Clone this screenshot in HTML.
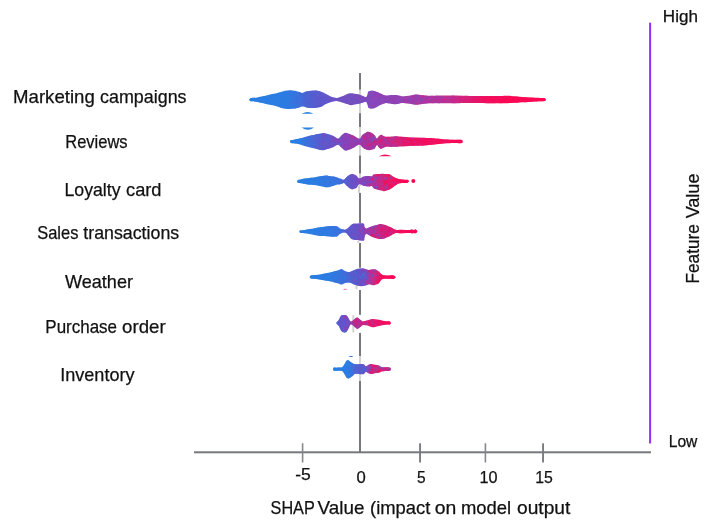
<!DOCTYPE html>
<html><head><meta charset="utf-8"><style>
html,body{margin:0;padding:0;background:#fff;width:719px;height:530px;overflow:hidden}
svg{display:block;will-change:transform}
text{font-family:"Liberation Sans",sans-serif;fill:#111;stroke:#111;stroke-width:0.25px}
</style></head><body>
<svg width="719" height="530" viewBox="0 0 719 530">
<defs><linearGradient id="gr1" gradientUnits="userSpaceOnUse" x1="249" y1="0" x2="546" y2="0"><stop offset="0.0000" stop-color="#2a80e4"/><stop offset="0.1212" stop-color="#2c7ce2"/><stop offset="0.1650" stop-color="#3a70dc"/><stop offset="0.1919" stop-color="#4a62d2"/><stop offset="0.2391" stop-color="#5a58cc"/><stop offset="0.2896" stop-color="#6a50c6"/><stop offset="0.3401" stop-color="#7352bc"/><stop offset="0.3939" stop-color="#7c4cc0"/><stop offset="0.4141" stop-color="#8848bc"/><stop offset="0.4882" stop-color="#9044b8"/><stop offset="0.5589" stop-color="#a040a8"/><stop offset="0.6397" stop-color="#b0389c"/><stop offset="0.6801" stop-color="#c03090"/><stop offset="0.7205" stop-color="#d02878"/><stop offset="0.7609" stop-color="#e01868"/><stop offset="0.7980" stop-color="#ee1060"/><stop offset="0.8451" stop-color="#f80a55"/><stop offset="1.0000" stop-color="#ff0a52"/></linearGradient>
<clipPath id="cr1"><path d="M249.3,99.7 C249.3,99.2 249.8,98.6 250.2,98.3 C250.6,98.0 250.4,98.2 251.6,98.0 C252.8,97.8 255.3,97.7 257.1,97.4 C259.0,97.1 260.9,96.7 262.7,96.3 C264.5,95.9 266.3,95.3 268.2,94.9 C270.1,94.5 271.9,94.2 273.8,93.8 C275.7,93.4 277.5,92.9 279.4,92.4 C281.3,91.9 283.3,91.2 285.0,90.8 C286.7,90.4 287.9,90.2 289.6,90.2 C291.3,90.2 293.4,90.4 295.1,90.7 C296.8,91.0 298.4,91.7 299.6,92.1 C300.8,92.5 301.3,93.1 302.4,93.0 C303.5,92.9 304.6,91.7 306.2,91.3 C307.8,90.9 309.9,90.8 311.8,90.7 C313.7,90.6 315.7,90.5 317.4,90.7 C319.1,90.9 320.6,91.5 322.0,92.0 C323.4,92.5 324.1,93.0 325.6,93.8 C327.1,94.6 329.2,96.1 331.1,96.8 C333.0,97.5 334.9,98.1 336.7,98.0 C338.5,97.9 340.3,97.0 342.2,96.3 C344.1,95.6 346.3,94.3 347.8,93.8 C349.3,93.3 349.8,93.2 351.2,93.2 C352.6,93.2 354.5,93.7 356.2,94.1 C357.9,94.5 360.0,94.9 361.6,95.4 C363.2,95.9 365.0,97.4 366.0,97.2 C367.0,97.0 367.2,94.9 367.6,94.0 C368.0,93.1 367.7,92.2 368.4,91.6 C369.1,91.0 370.4,90.5 371.6,90.4 C372.8,90.4 374.2,90.9 375.5,91.3 C376.8,91.7 378.0,92.3 379.4,92.9 C380.8,93.5 382.6,94.5 383.8,94.9 C385.0,95.4 385.2,95.6 386.6,95.6 C388.0,95.6 390.2,95.2 392.0,95.1 C393.8,95.0 395.8,95.0 397.6,95.2 C399.5,95.4 401.2,96.2 403.1,96.3 C405.0,96.4 406.6,96.1 408.7,95.8 C410.8,95.5 413.6,94.5 415.9,94.4 C418.2,94.3 420.1,95.0 422.6,95.2 C425.1,95.4 426.4,95.6 431.0,95.7 C435.6,95.8 443.5,95.6 450.0,95.6 C456.5,95.6 461.2,95.9 470.0,95.9 C478.8,96.0 495.7,95.9 502.5,95.9 C509.3,95.9 508.2,95.8 511.0,95.9 C513.8,96.0 515.8,96.4 519.2,96.7 C522.7,97.0 528.2,97.4 531.7,97.6 C535.2,97.8 537.9,97.9 540.0,98.0 C542.1,98.1 543.2,97.8 544.2,98.1 C545.2,98.4 545.8,99.2 545.8,99.7 C545.8,100.2 545.2,100.9 544.2,101.2 C543.2,101.5 542.1,101.2 540.0,101.3 C537.9,101.4 535.2,101.6 531.7,101.8 C528.2,102.0 522.7,102.4 519.2,102.6 C515.8,102.8 513.8,102.9 511.0,103.0 C508.2,103.1 509.3,103.3 502.5,103.3 C495.7,103.3 478.8,103.0 470.0,103.0 C461.2,103.0 456.5,103.3 450.0,103.3 C443.5,103.3 435.6,103.1 431.0,103.2 C426.4,103.3 425.1,103.7 422.6,103.9 C420.1,104.2 418.2,104.8 415.9,104.7 C413.6,104.7 410.8,103.9 408.7,103.6 C406.6,103.3 405.0,103.0 403.1,103.0 C401.2,103.0 399.5,103.7 397.6,103.9 C395.8,104.1 393.8,104.2 392.0,104.1 C390.2,104.0 388.0,103.1 386.6,103.1 C385.2,103.0 385.0,103.4 383.8,103.8 C382.6,104.2 380.8,104.8 379.4,105.4 C378.0,106.1 376.8,107.1 375.5,107.7 C374.2,108.3 372.8,108.8 371.6,108.8 C370.4,108.8 369.1,108.3 368.4,107.7 C367.7,107.1 368.0,106.0 367.6,105.0 C367.2,104.0 367.0,102.0 366.0,101.7 C365.0,101.4 363.2,102.6 361.6,103.0 C360.0,103.4 357.9,103.9 356.2,104.3 C354.5,104.7 352.6,105.2 351.2,105.2 C349.8,105.2 349.3,104.8 347.8,104.3 C346.3,103.8 344.1,103.0 342.2,102.4 C340.3,101.9 338.5,101.1 336.7,101.0 C334.9,100.9 333.0,101.5 331.1,102.0 C329.2,102.5 327.1,103.2 325.6,104.0 C324.1,104.8 323.4,106.0 322.0,106.6 C320.6,107.2 319.1,107.5 317.4,107.7 C315.7,107.9 313.7,108.0 311.8,108.0 C309.9,108.0 307.8,107.6 306.2,107.4 C304.6,107.2 303.5,106.6 302.4,106.6 C301.3,106.6 300.8,107.1 299.6,107.4 C298.4,107.7 296.8,108.2 295.1,108.5 C293.4,108.8 291.3,109.0 289.6,109.1 C287.9,109.1 286.7,109.1 285.0,108.8 C283.3,108.5 281.3,107.8 279.4,107.2 C277.5,106.7 275.7,106.0 273.8,105.5 C271.9,105.0 270.1,104.8 268.2,104.4 C266.3,104.0 264.5,103.4 262.7,103.0 C260.9,102.6 259.0,102.2 257.1,101.9 C255.3,101.6 252.8,101.4 251.6,101.3 C250.4,101.2 250.6,101.4 250.2,101.1 C249.8,100.8 249.3,100.2 249.3,99.7Z"/></clipPath>
<linearGradient id="gr2" gradientUnits="userSpaceOnUse" x1="290" y1="0" x2="463" y2="0"><stop offset="0.0000" stop-color="#2a80e4"/><stop offset="0.0578" stop-color="#2e7ce2"/><stop offset="0.1272" stop-color="#4a68d6"/><stop offset="0.1850" stop-color="#5a58cc"/><stop offset="0.2428" stop-color="#6a50c6"/><stop offset="0.3179" stop-color="#8a40b8"/><stop offset="0.4046" stop-color="#9a38a8"/><stop offset="0.4566" stop-color="#a8309a"/><stop offset="0.5202" stop-color="#b83090"/><stop offset="0.5896" stop-color="#c82880"/><stop offset="0.6936" stop-color="#e01868"/><stop offset="0.8092" stop-color="#f01060"/><stop offset="1.0000" stop-color="#fa0a55"/></linearGradient>
<clipPath id="cr2"><path d="M290.0,141.6 C290.0,141.1 290.4,140.5 290.8,140.2 C291.2,139.9 291.4,140.2 292.6,140.0 C293.8,139.8 296.2,139.2 298.1,138.8 C300.0,138.4 301.8,137.9 303.7,137.4 C305.6,136.9 307.4,136.2 309.3,135.8 C311.2,135.4 313.0,135.1 314.8,134.7 C316.6,134.3 318.9,133.9 320.4,133.6 C321.9,133.3 322.8,132.9 324.0,133.0 C325.2,133.1 326.1,133.6 327.6,134.1 C329.1,134.6 331.4,135.1 333.1,135.8 C334.9,136.6 336.7,138.7 338.1,138.6 C339.5,138.5 340.3,136.2 341.5,135.2 C342.7,134.2 344.0,132.9 345.4,132.7 C346.8,132.5 348.3,133.5 349.8,134.1 C351.3,134.7 352.7,135.3 354.3,136.1 C355.9,136.9 358.1,139.0 359.5,138.8 C360.9,138.6 361.4,135.8 362.5,134.7 C363.6,133.6 364.9,132.9 366.0,132.4 C367.1,131.9 368.1,131.8 369.1,131.9 C370.1,132.0 371.1,132.4 372.0,133.0 C372.9,133.6 373.9,134.3 374.7,135.2 C375.5,136.1 376.2,138.3 376.9,138.4 C377.6,138.5 378.2,136.6 379.0,136.0 C379.8,135.4 380.3,134.6 381.4,134.7 C382.4,134.8 383.6,136.4 385.3,136.7 C387.0,137.0 389.5,136.7 391.4,136.6 C393.3,136.5 393.9,136.2 396.9,136.3 C399.9,136.4 405.1,137.1 409.6,137.3 C414.2,137.6 420.1,137.6 424.2,137.8 C428.2,138.0 430.6,138.1 433.9,138.3 C437.1,138.5 440.4,139.0 443.7,139.2 C446.9,139.4 450.5,139.6 453.4,139.7 C456.3,139.8 459.4,139.5 461.0,139.8 C462.6,140.1 462.8,140.9 462.8,141.5 C462.8,142.1 462.6,142.9 461.0,143.2 C459.4,143.5 456.3,143.0 453.4,143.1 C450.5,143.2 446.9,143.3 443.7,143.6 C440.4,143.8 437.1,144.3 433.9,144.6 C430.6,144.9 428.2,145.3 424.2,145.6 C420.1,145.8 414.2,145.9 409.6,146.1 C405.1,146.3 399.9,146.7 396.9,146.8 C393.9,146.9 393.3,146.9 391.4,146.9 C389.5,146.9 387.0,146.6 385.3,146.9 C383.6,147.2 382.4,148.7 381.4,148.8 C380.3,148.9 379.8,148.2 379.0,147.5 C378.2,146.8 377.6,144.7 376.9,144.9 C376.2,145.1 375.5,147.8 374.7,148.6 C373.9,149.4 372.9,149.2 372.0,149.5 C371.1,149.8 370.1,150.2 369.1,150.2 C368.1,150.2 367.1,150.0 366.0,149.6 C364.9,149.2 363.6,148.3 362.5,147.5 C361.4,146.7 360.9,144.6 359.5,144.6 C358.1,144.6 355.9,146.6 354.3,147.4 C352.7,148.2 351.3,148.9 349.8,149.4 C348.3,149.9 346.8,150.8 345.4,150.5 C344.0,150.2 342.7,148.7 341.5,147.7 C340.3,146.7 339.5,144.8 338.1,144.7 C336.7,144.6 334.9,146.5 333.1,147.2 C331.4,147.9 329.1,148.6 327.6,149.1 C326.1,149.6 325.2,150.0 324.0,150.2 C322.8,150.3 321.9,150.3 320.4,150.0 C318.9,149.7 316.6,149.1 314.8,148.6 C313.0,148.1 311.2,147.7 309.3,147.2 C307.4,146.7 305.6,146.3 303.7,145.8 C301.8,145.3 300.0,144.5 298.1,144.1 C296.2,143.7 293.8,143.5 292.6,143.3 C291.4,143.1 291.2,143.4 290.8,143.1 C290.4,142.8 290.0,142.1 290.0,141.6Z"/></clipPath>
<linearGradient id="gr3" gradientUnits="userSpaceOnUse" x1="297" y1="0" x2="414" y2="0"><stop offset="0.0000" stop-color="#2a80e4"/><stop offset="0.1966" stop-color="#2e7ce2"/><stop offset="0.3504" stop-color="#3a72de"/><stop offset="0.4188" stop-color="#5a5ad0"/><stop offset="0.4701" stop-color="#6652c6"/><stop offset="0.5385" stop-color="#7a48c0"/><stop offset="0.6068" stop-color="#8a40b8"/><stop offset="0.6581" stop-color="#b0309a"/><stop offset="0.7265" stop-color="#d02478"/><stop offset="0.8120" stop-color="#e81866"/><stop offset="0.8803" stop-color="#f80c58"/><stop offset="1.0000" stop-color="#ff0a55"/></linearGradient>
<clipPath id="cr3"><path d="M297.2,181.4 C297.2,180.9 297.6,180.3 298.0,180.0 C298.4,179.7 298.4,179.9 299.6,179.7 C300.8,179.5 303.2,178.9 305.1,178.6 C307.0,178.3 308.9,178.1 310.7,177.8 C312.5,177.5 314.3,177.2 316.2,176.9 C318.1,176.6 320.1,176.3 321.8,176.1 C323.5,175.8 324.9,175.4 326.3,175.4 C327.7,175.4 328.4,175.8 330.0,176.0 C331.6,176.2 333.8,176.4 335.6,176.9 C337.5,177.4 339.7,178.3 341.1,178.8 C342.5,179.3 343.0,180.0 343.9,179.7 C344.8,179.4 345.8,177.7 346.7,176.9 C347.6,176.1 348.6,175.3 349.5,174.8 C350.4,174.3 351.4,174.1 352.3,174.1 C353.2,174.1 354.3,174.4 355.0,174.7 C355.7,175.0 355.9,175.2 356.7,175.8 C357.4,176.5 358.4,178.5 359.5,178.6 C360.6,178.7 361.8,177.0 363.4,176.6 C365.0,176.2 367.5,176.1 368.9,176.1 C370.3,176.1 370.9,176.5 371.6,176.3 C372.3,176.1 372.6,175.3 373.0,175.0 C373.4,174.7 372.9,174.5 374.0,174.3 C375.1,174.1 378.2,174.0 379.9,173.9 C381.6,173.8 382.5,173.8 384.1,173.9 C385.7,174.0 388.0,173.8 389.6,174.3 C391.2,174.8 392.3,176.2 393.8,177.0 C395.3,177.8 397.0,178.6 398.7,179.1 C400.4,179.6 402.7,179.7 404.2,179.8 C405.7,179.9 406.7,179.6 407.5,179.8 C408.3,180.1 408.9,180.8 408.9,181.3 C408.9,181.8 408.3,182.5 407.5,182.8 C406.7,183.1 405.7,182.9 404.2,183.0 C402.7,183.1 400.4,183.0 398.7,183.6 C397.0,184.2 395.3,185.8 393.8,186.8 C392.3,187.8 391.2,188.9 389.6,189.6 C388.0,190.3 385.7,191.1 384.1,191.2 C382.5,191.3 381.6,190.8 379.9,190.3 C378.2,189.8 375.1,188.9 374.0,188.4 C372.9,187.9 373.4,187.9 373.0,187.5 C372.6,187.1 372.3,186.2 371.6,186.1 C370.9,185.9 370.3,186.6 368.9,186.6 C367.5,186.6 365.0,186.2 363.4,185.8 C361.8,185.4 360.6,183.8 359.5,184.1 C358.4,184.4 357.4,186.7 356.7,187.4 C355.9,188.1 355.7,188.2 355.0,188.5 C354.3,188.8 353.2,189.4 352.3,189.4 C351.4,189.4 350.4,188.9 349.5,188.3 C348.6,187.7 347.6,186.7 346.7,185.8 C345.8,184.9 344.8,183.3 343.9,183.0 C343.0,182.7 342.5,183.8 341.1,184.1 C339.7,184.4 337.5,184.5 335.6,185.0 C333.8,185.5 331.6,186.5 330.0,186.9 C328.4,187.3 327.7,187.4 326.3,187.3 C324.9,187.2 323.5,186.7 321.8,186.4 C320.1,186.1 318.1,185.6 316.2,185.3 C314.3,185.0 312.5,184.9 310.7,184.7 C308.9,184.5 307.0,184.2 305.1,183.9 C303.2,183.6 300.8,183.2 299.6,183.0 C298.4,182.8 298.4,183.1 298.0,182.8 C297.6,182.5 297.2,181.9 297.2,181.4Z"/></clipPath>
<linearGradient id="gr4" gradientUnits="userSpaceOnUse" x1="299" y1="0" x2="418" y2="0"><stop offset="0.0000" stop-color="#2a80e4"/><stop offset="0.2185" stop-color="#2e7ce2"/><stop offset="0.3445" stop-color="#3a72de"/><stop offset="0.4034" stop-color="#5a5ad0"/><stop offset="0.4706" stop-color="#6652c6"/><stop offset="0.5378" stop-color="#7448c4"/><stop offset="0.5798" stop-color="#9a3ab0"/><stop offset="0.6387" stop-color="#c02c88"/><stop offset="0.7479" stop-color="#d02078"/><stop offset="0.8067" stop-color="#f01060"/><stop offset="1.0000" stop-color="#ff0a55"/></linearGradient>
<clipPath id="cr4"><path d="M299.4,231.6 C299.4,231.2 299.8,230.5 300.4,230.3 C301.0,230.1 301.4,230.4 303.0,230.2 C304.6,230.0 307.6,229.5 309.9,229.1 C312.2,228.7 314.6,228.1 316.9,227.7 C319.2,227.3 321.5,227.0 323.8,226.7 C326.1,226.4 328.6,226.1 330.8,226.0 C333.0,225.9 335.4,225.8 337.0,226.3 C338.6,226.8 339.1,228.2 340.5,228.8 C341.9,229.4 344.2,229.9 345.6,229.6 C347.0,229.3 347.9,228.0 349.0,227.1 C350.1,226.2 351.1,224.6 352.5,224.0 C353.9,223.4 355.5,223.7 357.4,223.6 C359.2,223.5 362.4,223.0 363.6,223.6 C364.8,224.2 364.2,226.3 364.7,227.1 C365.2,227.9 365.3,228.6 366.4,228.5 C367.5,228.4 369.3,227.1 371.3,226.4 C373.3,225.7 376.4,224.8 378.2,224.4 C380.0,224.0 380.8,224.1 382.0,224.2 C383.2,224.3 384.1,224.4 385.6,225.0 C387.1,225.6 389.4,226.7 391.1,227.5 C392.8,228.3 393.7,229.3 395.6,229.7 C397.5,230.1 400.1,229.8 402.3,229.8 C404.5,229.9 407.4,230.1 409.0,230.0 C410.6,229.9 410.9,229.5 411.7,229.5 C412.4,229.5 412.9,230.0 413.5,230.0 C414.1,230.0 415.0,229.4 415.6,229.6 C416.2,229.8 417.3,230.8 417.3,231.4 C417.3,232.0 416.2,233.1 415.6,233.3 C415.0,233.6 414.1,232.9 413.5,232.9 C412.9,232.9 412.4,233.2 411.7,233.2 C410.9,233.2 410.6,233.0 409.0,233.0 C407.4,233.0 404.5,233.2 402.3,233.2 C400.1,233.2 397.5,232.7 395.6,233.1 C393.7,233.5 392.8,234.8 391.1,235.6 C389.4,236.4 387.1,237.5 385.6,238.1 C384.1,238.7 383.2,238.9 382.0,239.0 C380.8,239.1 380.0,239.2 378.2,238.8 C376.4,238.4 373.3,237.3 371.3,236.5 C369.3,235.7 367.5,234.0 366.4,234.1 C365.3,234.2 365.2,235.8 364.7,236.9 C364.2,238.0 364.8,240.2 363.6,240.7 C362.4,241.2 359.2,240.2 357.4,240.0 C355.5,239.8 353.9,240.2 352.5,239.6 C351.1,239.0 350.1,237.3 349.0,236.2 C347.9,235.0 347.0,233.1 345.6,232.7 C344.2,232.3 341.9,233.0 340.5,233.6 C339.1,234.2 338.6,235.9 337.0,236.4 C335.4,236.9 333.0,236.5 330.8,236.4 C328.6,236.3 326.1,236.3 323.8,236.1 C321.5,235.9 319.2,235.8 316.9,235.4 C314.6,235.1 312.2,234.4 309.9,234.0 C307.6,233.6 304.6,233.2 303.0,233.0 C301.4,232.8 301.0,233.1 300.4,232.9 C299.8,232.7 299.4,232.0 299.4,231.6Z"/></clipPath>
<linearGradient id="gr5" gradientUnits="userSpaceOnUse" x1="310" y1="0" x2="396" y2="0"><stop offset="0.0000" stop-color="#2a80e4"/><stop offset="0.2326" stop-color="#2e7ce2"/><stop offset="0.3721" stop-color="#3a70dc"/><stop offset="0.4884" stop-color="#5060d0"/><stop offset="0.5814" stop-color="#6052c8"/><stop offset="0.6512" stop-color="#7c48c0"/><stop offset="0.7093" stop-color="#b03498"/><stop offset="0.7674" stop-color="#d82474"/><stop offset="0.8488" stop-color="#f80c58"/><stop offset="1.0000" stop-color="#ff0a55"/></linearGradient>
<clipPath id="cr5"><path d="M309.7,277.0 C309.7,276.5 310.1,275.8 310.6,275.5 C311.2,275.2 311.4,275.4 313.0,275.2 C314.6,275.0 317.6,274.9 319.9,274.5 C322.2,274.1 324.6,273.6 326.9,273.1 C329.2,272.6 331.9,271.9 333.8,271.4 C335.7,270.9 337.2,270.6 338.5,270.2 C339.8,269.8 340.4,268.9 341.5,269.0 C342.6,269.1 343.6,270.5 344.9,271.0 C346.2,271.5 347.7,272.1 349.1,272.0 C350.5,271.9 352.1,270.8 353.5,270.3 C354.9,269.8 356.1,269.1 357.5,268.8 C358.9,268.5 360.5,268.3 361.8,268.3 C363.1,268.3 364.3,268.7 365.5,269.0 C366.7,269.3 367.8,269.9 368.8,270.0 C369.8,270.1 370.6,269.5 371.5,269.4 C372.4,269.3 373.4,269.2 374.3,269.3 C375.2,269.4 376.2,269.8 377.0,270.2 C377.8,270.6 378.2,270.9 379.2,271.7 C380.1,272.5 381.1,274.3 382.7,274.9 C384.3,275.5 387.1,275.3 388.9,275.4 C390.7,275.5 392.4,275.1 393.5,275.4 C394.6,275.7 395.6,276.6 395.6,277.2 C395.6,277.8 394.6,278.6 393.5,278.9 C392.4,279.2 390.7,278.8 388.9,278.8 C387.1,278.8 384.3,278.3 382.7,279.0 C381.1,279.7 380.1,282.0 379.2,282.9 C378.2,283.8 377.8,283.9 377.0,284.3 C376.2,284.7 375.2,285.2 374.3,285.3 C373.4,285.4 372.4,285.2 371.5,285.0 C370.6,284.8 369.8,284.2 368.8,284.3 C367.8,284.4 366.7,285.3 365.5,285.6 C364.3,285.9 363.1,286.3 361.8,286.3 C360.5,286.3 358.9,286.1 357.5,285.8 C356.1,285.5 354.9,284.9 353.5,284.3 C352.1,283.8 350.5,282.7 349.1,282.5 C347.7,282.3 346.2,282.5 344.9,282.9 C343.6,283.2 342.6,284.5 341.5,284.6 C340.4,284.7 339.8,284.0 338.5,283.6 C337.2,283.2 335.7,282.7 333.8,282.2 C331.9,281.7 329.2,281.3 326.9,280.8 C324.6,280.3 322.2,279.8 319.9,279.4 C317.6,279.0 314.6,278.8 313.0,278.7 C311.4,278.6 311.2,278.8 310.6,278.5 C310.1,278.2 309.7,277.5 309.7,277.0Z"/></clipPath>
<linearGradient id="gr6" gradientUnits="userSpaceOnUse" x1="336" y1="0" x2="391" y2="0"><stop offset="0.0000" stop-color="#5a5ad4"/><stop offset="0.2182" stop-color="#6a50c8"/><stop offset="0.2909" stop-color="#a03498"/><stop offset="0.4364" stop-color="#b82890"/><stop offset="0.5818" stop-color="#d8207a"/><stop offset="0.7636" stop-color="#ea1466"/><stop offset="1.0000" stop-color="#f80c58"/></linearGradient>
<clipPath id="cr6"><path d="M336.4,323.1 C336.4,322.0 337.9,320.9 338.7,319.7 C339.4,318.5 340.2,316.6 340.9,315.8 C341.6,315.0 342.2,315.1 343.1,315.0 C344.0,314.9 345.6,314.8 346.5,315.3 C347.4,315.9 348.0,317.2 348.7,318.3 C349.4,319.4 350.0,321.5 350.9,321.6 C351.8,321.8 353.2,319.9 354.3,319.2 C355.4,318.5 356.3,317.4 357.3,317.5 C358.3,317.6 359.4,319.1 360.4,319.7 C361.3,320.3 361.8,321.3 363.0,321.4 C364.2,321.5 365.9,320.7 367.5,320.3 C369.1,319.9 370.8,319.1 372.5,319.0 C374.2,318.9 375.8,319.2 377.5,319.5 C379.2,319.8 380.8,320.4 382.5,320.7 C384.2,321.0 386.3,321.2 387.5,321.3 C388.7,321.4 389.2,321.1 389.8,321.4 C390.4,321.7 391.0,322.5 391.0,323.0 C391.0,323.5 390.4,324.3 389.8,324.6 C389.2,324.9 388.7,324.5 387.5,324.6 C386.3,324.7 384.2,325.0 382.5,325.3 C380.8,325.6 379.2,326.0 377.5,326.3 C375.8,326.6 374.2,327.4 372.5,327.3 C370.8,327.2 369.1,325.9 367.5,325.5 C365.9,325.1 364.2,324.8 363.0,325.0 C361.8,325.2 361.3,326.4 360.4,327.0 C359.4,327.6 358.3,328.9 357.3,328.9 C356.3,328.8 355.4,327.5 354.3,326.7 C353.2,325.9 351.8,323.9 350.9,324.2 C350.0,324.5 349.4,327.0 348.7,328.3 C348.0,329.6 347.4,331.4 346.5,332.0 C345.6,332.6 344.0,332.4 343.1,332.2 C342.2,332.0 341.6,331.6 340.9,330.6 C340.2,329.6 339.4,327.4 338.7,326.1 C337.9,324.9 336.4,324.2 336.4,323.1Z"/></clipPath>
<linearGradient id="gr7" gradientUnits="userSpaceOnUse" x1="333" y1="0" x2="391" y2="0"><stop offset="0.0000" stop-color="#2a80e4"/><stop offset="0.2931" stop-color="#2e7ce2"/><stop offset="0.3966" stop-color="#5060d0"/><stop offset="0.5345" stop-color="#6450c8"/><stop offset="0.6034" stop-color="#9840b0"/><stop offset="0.6724" stop-color="#c8287f"/><stop offset="0.8103" stop-color="#c0307f"/><stop offset="0.9138" stop-color="#b83088"/><stop offset="1.0000" stop-color="#a8309a"/></linearGradient>
<clipPath id="cr7"><path d="M333.0,369.2 C333.0,368.7 333.3,367.9 333.8,367.6 C334.3,367.3 334.6,367.5 336.0,367.4 C337.4,367.3 340.7,367.8 342.1,367.2 C343.5,366.6 343.8,365.2 344.5,364.1 C345.2,363.0 345.7,361.5 346.3,360.8 C346.9,360.1 347.4,359.8 348.1,359.9 C348.8,360.0 349.7,361.1 350.5,361.7 C351.3,362.2 352.1,362.8 352.9,363.2 C353.7,363.6 354.0,364.2 355.4,364.3 C356.8,364.4 360.0,364.0 361.4,364.0 C362.8,364.0 363.2,364.1 364.0,364.5 C364.8,364.9 365.0,366.3 366.0,366.2 C367.0,366.1 368.5,364.2 370.0,364.0 C371.5,363.8 373.5,364.6 375.0,364.8 C376.5,365.1 377.9,365.1 379.0,365.5 C380.1,365.9 380.3,366.7 381.5,367.0 C382.7,367.3 384.6,367.1 386.0,367.2 C387.4,367.3 389.0,367.1 389.8,367.4 C390.6,367.7 390.9,368.4 390.9,369.0 C390.9,369.6 390.6,370.4 389.8,370.8 C389.0,371.2 387.4,371.0 386.0,371.1 C384.6,371.2 382.7,371.2 381.5,371.5 C380.3,371.8 380.1,372.5 379.0,372.8 C377.9,373.1 376.5,373.1 375.0,373.3 C373.5,373.5 371.5,374.2 370.0,374.0 C368.5,373.8 367.0,372.1 366.0,372.1 C365.0,372.1 364.8,373.6 364.0,374.0 C363.2,374.4 362.8,374.2 361.4,374.2 C360.0,374.2 356.8,373.5 355.4,373.8 C354.0,374.1 353.7,375.3 352.9,375.9 C352.1,376.5 351.3,376.9 350.5,377.4 C349.7,377.8 348.8,378.6 348.1,378.6 C347.4,378.6 346.9,378.1 346.3,377.4 C345.7,376.7 345.2,375.4 344.5,374.3 C343.8,373.2 343.5,371.6 342.1,371.0 C340.7,370.4 337.4,370.7 336.0,370.7 C334.6,370.7 334.3,371.1 333.8,370.8 C333.3,370.6 333.0,369.7 333.0,369.2Z"/></clipPath></defs>
<rect width="719" height="530" fill="#fff"/>
<!-- zero line -->
<rect x="359.0" y="73.0" width="2" height="16.8" fill="#77797e"/>
<rect x="359.0" y="89.8" width="2" height="23.4" fill="#d2d4d2"/>
<rect x="359.0" y="113.2" width="2" height="14.0" fill="#77797e"/>
<rect x="359.0" y="127.2" width="2" height="28.3" fill="#d2d4d2"/>
<rect x="359.0" y="155.5" width="2" height="18.2" fill="#77797e"/>
<rect x="359.0" y="173.7" width="2" height="12.3" fill="#d2d4d2"/>
<rect x="358.0" y="186.0" width="2" height="6.9" fill="#d2d4d2"/>
<rect x="359.0" y="192.9" width="2" height="30.4" fill="#77797e"/>
<rect x="357.2" y="240.7" width="2" height="2.2" fill="#d2d4d2"/>
<rect x="359.0" y="243.0" width="2" height="24.8" fill="#77797e"/>
<rect x="355.5" y="285.0" width="2" height="4.3" fill="#d2d4d2"/>
<rect x="359.0" y="290.0" width="2" height="24.8" fill="#77797e"/>
<rect x="352.3" y="315.2" width="2" height="17.3" fill="#d2d4d2"/>
<rect x="359.0" y="332.9" width="2" height="23.1" fill="#77797e"/>
<rect x="359.0" y="356.0" width="2" height="25.0" fill="#d2d4d2"/>
<rect x="359.0" y="381.0" width="2" height="71.0" fill="#77797e"/>
<path d="M249.3,99.7 C249.3,99.2 249.8,98.6 250.2,98.3 C250.6,98.0 250.4,98.2 251.6,98.0 C252.8,97.8 255.3,97.7 257.1,97.4 C259.0,97.1 260.9,96.7 262.7,96.3 C264.5,95.9 266.3,95.3 268.2,94.9 C270.1,94.5 271.9,94.2 273.8,93.8 C275.7,93.4 277.5,92.9 279.4,92.4 C281.3,91.9 283.3,91.2 285.0,90.8 C286.7,90.4 287.9,90.2 289.6,90.2 C291.3,90.2 293.4,90.4 295.1,90.7 C296.8,91.0 298.4,91.7 299.6,92.1 C300.8,92.5 301.3,93.1 302.4,93.0 C303.5,92.9 304.6,91.7 306.2,91.3 C307.8,90.9 309.9,90.8 311.8,90.7 C313.7,90.6 315.7,90.5 317.4,90.7 C319.1,90.9 320.6,91.5 322.0,92.0 C323.4,92.5 324.1,93.0 325.6,93.8 C327.1,94.6 329.2,96.1 331.1,96.8 C333.0,97.5 334.9,98.1 336.7,98.0 C338.5,97.9 340.3,97.0 342.2,96.3 C344.1,95.6 346.3,94.3 347.8,93.8 C349.3,93.3 349.8,93.2 351.2,93.2 C352.6,93.2 354.5,93.7 356.2,94.1 C357.9,94.5 360.0,94.9 361.6,95.4 C363.2,95.9 365.0,97.4 366.0,97.2 C367.0,97.0 367.2,94.9 367.6,94.0 C368.0,93.1 367.7,92.2 368.4,91.6 C369.1,91.0 370.4,90.5 371.6,90.4 C372.8,90.4 374.2,90.9 375.5,91.3 C376.8,91.7 378.0,92.3 379.4,92.9 C380.8,93.5 382.6,94.5 383.8,94.9 C385.0,95.4 385.2,95.6 386.6,95.6 C388.0,95.6 390.2,95.2 392.0,95.1 C393.8,95.0 395.8,95.0 397.6,95.2 C399.5,95.4 401.2,96.2 403.1,96.3 C405.0,96.4 406.6,96.1 408.7,95.8 C410.8,95.5 413.6,94.5 415.9,94.4 C418.2,94.3 420.1,95.0 422.6,95.2 C425.1,95.4 426.4,95.6 431.0,95.7 C435.6,95.8 443.5,95.6 450.0,95.6 C456.5,95.6 461.2,95.9 470.0,95.9 C478.8,96.0 495.7,95.9 502.5,95.9 C509.3,95.9 508.2,95.8 511.0,95.9 C513.8,96.0 515.8,96.4 519.2,96.7 C522.7,97.0 528.2,97.4 531.7,97.6 C535.2,97.8 537.9,97.9 540.0,98.0 C542.1,98.1 543.2,97.8 544.2,98.1 C545.2,98.4 545.8,99.2 545.8,99.7 C545.8,100.2 545.2,100.9 544.2,101.2 C543.2,101.5 542.1,101.2 540.0,101.3 C537.9,101.4 535.2,101.6 531.7,101.8 C528.2,102.0 522.7,102.4 519.2,102.6 C515.8,102.8 513.8,102.9 511.0,103.0 C508.2,103.1 509.3,103.3 502.5,103.3 C495.7,103.3 478.8,103.0 470.0,103.0 C461.2,103.0 456.5,103.3 450.0,103.3 C443.5,103.3 435.6,103.1 431.0,103.2 C426.4,103.3 425.1,103.7 422.6,103.9 C420.1,104.2 418.2,104.8 415.9,104.7 C413.6,104.7 410.8,103.9 408.7,103.6 C406.6,103.3 405.0,103.0 403.1,103.0 C401.2,103.0 399.5,103.7 397.6,103.9 C395.8,104.1 393.8,104.2 392.0,104.1 C390.2,104.0 388.0,103.1 386.6,103.1 C385.2,103.0 385.0,103.4 383.8,103.8 C382.6,104.2 380.8,104.8 379.4,105.4 C378.0,106.1 376.8,107.1 375.5,107.7 C374.2,108.3 372.8,108.8 371.6,108.8 C370.4,108.8 369.1,108.3 368.4,107.7 C367.7,107.1 368.0,106.0 367.6,105.0 C367.2,104.0 367.0,102.0 366.0,101.7 C365.0,101.4 363.2,102.6 361.6,103.0 C360.0,103.4 357.9,103.9 356.2,104.3 C354.5,104.7 352.6,105.2 351.2,105.2 C349.8,105.2 349.3,104.8 347.8,104.3 C346.3,103.8 344.1,103.0 342.2,102.4 C340.3,101.9 338.5,101.1 336.7,101.0 C334.9,100.9 333.0,101.5 331.1,102.0 C329.2,102.5 327.1,103.2 325.6,104.0 C324.1,104.8 323.4,106.0 322.0,106.6 C320.6,107.2 319.1,107.5 317.4,107.7 C315.7,107.9 313.7,108.0 311.8,108.0 C309.9,108.0 307.8,107.6 306.2,107.4 C304.6,107.2 303.5,106.6 302.4,106.6 C301.3,106.6 300.8,107.1 299.6,107.4 C298.4,107.7 296.8,108.2 295.1,108.5 C293.4,108.8 291.3,109.0 289.6,109.1 C287.9,109.1 286.7,109.1 285.0,108.8 C283.3,108.5 281.3,107.8 279.4,107.2 C277.5,106.7 275.7,106.0 273.8,105.5 C271.9,105.0 270.1,104.8 268.2,104.4 C266.3,104.0 264.5,103.4 262.7,103.0 C260.9,102.6 259.0,102.2 257.1,101.9 C255.3,101.6 252.8,101.4 251.6,101.3 C250.4,101.2 250.6,101.4 250.2,101.1 C249.8,100.8 249.3,100.2 249.3,99.7Z" fill="url(#gr1)"/>
<g clip-path="url(#cr1)"><g opacity="0.75"><circle cx="356.6" cy="99.4" r="1.0" fill="#6e53c6"/><circle cx="385.2" cy="98.8" r="1.1" fill="#973daf"/><circle cx="413.2" cy="102.3" r="1.5" fill="#a338a7"/><circle cx="277.9" cy="99.9" r="1.3" fill="#2c7de2"/><circle cx="452.4" cy="101.8" r="1.2" fill="#d02287"/><circle cx="260.1" cy="100.5" r="1.1" fill="#2c7de2"/><circle cx="334.9" cy="98.4" r="1.2" fill="#764ec3"/><circle cx="374.3" cy="95.9" r="1.7" fill="#7e49bf"/><circle cx="389.3" cy="101.0" r="1.3" fill="#9140b2"/><circle cx="466.2" cy="99.1" r="1.2" fill="#d12185"/><circle cx="333.3" cy="99.6" r="1.5" fill="#6657ca"/><circle cx="487.1" cy="100.3" r="1.3" fill="#e9146c"/><circle cx="465.6" cy="98.7" r="1.5" fill="#d42082"/><circle cx="420.9" cy="103.5" r="1.1" fill="#9d3aaa"/><circle cx="449.5" cy="99.2" r="1.0" fill="#b92d97"/><circle cx="542.3" cy="98.2" r="1.6" fill="#fa0b5a"/><circle cx="464.4" cy="101.5" r="1.3" fill="#d81e7e"/><circle cx="290.0" cy="93.2" r="1.1" fill="#3378e0"/><circle cx="398.4" cy="97.3" r="1.0" fill="#9d3aaa"/><circle cx="502.9" cy="101.2" r="1.4" fill="#fc0957"/><circle cx="416.6" cy="96.2" r="1.0" fill="#8f41b4"/><circle cx="309.2" cy="93.6" r="1.2" fill="#4d66d5"/><circle cx="523.5" cy="99.1" r="1.1" fill="#ff0854"/><circle cx="266.8" cy="103.1" r="1.6" fill="#2d7de2"/><circle cx="446.7" cy="97.4" r="1.1" fill="#c5288f"/><circle cx="325.5" cy="95.8" r="1.7" fill="#6359cb"/><circle cx="275.5" cy="96.1" r="1.6" fill="#2c7de2"/><circle cx="481.8" cy="101.4" r="1.6" fill="#ee1166"/><circle cx="423.7" cy="103.3" r="1.1" fill="#a636a4"/><circle cx="414.1" cy="104.3" r="1.5" fill="#983dae"/><circle cx="408.1" cy="102.9" r="1.7" fill="#9c3bab"/><circle cx="416.5" cy="96.5" r="1.3" fill="#9f3aa9"/><circle cx="322.4" cy="94.1" r="1.6" fill="#595fd0"/><circle cx="358.5" cy="102.8" r="1.6" fill="#744fc3"/><circle cx="478.3" cy="97.1" r="1.5" fill="#ef1165"/><circle cx="475.2" cy="103.0" r="1.3" fill="#ec1369"/><circle cx="263.5" cy="97.7" r="1.2" fill="#307be1"/><circle cx="361.5" cy="102.9" r="1.1" fill="#7052c6"/><circle cx="338.1" cy="101.3" r="1.5" fill="#7350c4"/><circle cx="458.4" cy="98.2" r="1.2" fill="#c12a92"/><circle cx="461.3" cy="97.1" r="1.6" fill="#d02287"/><circle cx="516.0" cy="99.0" r="1.3" fill="#ff0854"/><circle cx="384.8" cy="102.2" r="1.5" fill="#8c42b6"/><circle cx="453.0" cy="103.1" r="1.2" fill="#c42890"/><circle cx="416.0" cy="97.0" r="1.1" fill="#b0329e"/><circle cx="361.6" cy="100.5" r="1.3" fill="#744fc3"/><circle cx="438.0" cy="99.3" r="1.3" fill="#a437a6"/><circle cx="412.3" cy="95.5" r="1.6" fill="#ac33a0"/><circle cx="384.3" cy="98.0" r="1.2" fill="#8745b9"/><circle cx="527.1" cy="100.2" r="1.0" fill="#fb0a58"/><circle cx="259.0" cy="100.3" r="1.3" fill="#2880e4"/><circle cx="273.1" cy="102.0" r="1.6" fill="#297fe4"/><circle cx="393.4" cy="98.5" r="1.5" fill="#8844b9"/><circle cx="374.1" cy="107.1" r="1.1" fill="#8546bb"/><circle cx="272.1" cy="97.0" r="1.6" fill="#2b7ee3"/><circle cx="392.3" cy="97.8" r="1.5" fill="#8e41b4"/><circle cx="435.0" cy="100.4" r="1.0" fill="#a139a8"/><circle cx="314.6" cy="107.1" r="1.3" fill="#5163d3"/><circle cx="431.8" cy="97.2" r="1.5" fill="#983dae"/><circle cx="422.2" cy="101.2" r="1.5" fill="#b3309c"/><circle cx="351.5" cy="104.2" r="1.2" fill="#8745b9"/><circle cx="298.2" cy="94.1" r="1.4" fill="#3d71db"/><circle cx="387.8" cy="96.7" r="1.1" fill="#8545ba"/><circle cx="480.7" cy="101.0" r="1.6" fill="#e9146c"/><circle cx="328.9" cy="101.9" r="1.3" fill="#5561d2"/><circle cx="503.6" cy="101.6" r="1.4" fill="#ff0854"/><circle cx="402.7" cy="100.0" r="1.1" fill="#8247bd"/><circle cx="365.2" cy="97.8" r="1.2" fill="#6e53c6"/><circle cx="317.7" cy="95.7" r="1.2" fill="#5760d1"/><circle cx="293.2" cy="103.5" r="1.1" fill="#3a73dd"/><circle cx="480.0" cy="102.2" r="1.4" fill="#e6166f"/><circle cx="486.6" cy="98.6" r="1.4" fill="#f11063"/><circle cx="487.9" cy="100.3" r="1.3" fill="#ee1267"/><circle cx="533.7" cy="101.6" r="1.7" fill="#f60d5e"/><circle cx="375.4" cy="102.1" r="1.6" fill="#8c42b6"/><circle cx="415.9" cy="99.7" r="1.7" fill="#953eb0"/><circle cx="434.9" cy="97.2" r="1.2" fill="#9140b3"/><circle cx="414.2" cy="95.2" r="1.2" fill="#ac34a0"/><circle cx="279.0" cy="93.3" r="1.4" fill="#2d7ce2"/><circle cx="249.8" cy="100.0" r="1.6" fill="#2b7ee3"/><circle cx="315.5" cy="91.7" r="1.4" fill="#5f5bcd"/><circle cx="276.5" cy="105.6" r="1.1" fill="#2c7de3"/><circle cx="357.9" cy="102.9" r="1.2" fill="#7151c5"/><circle cx="455.1" cy="100.4" r="1.4" fill="#d02286"/><circle cx="302.1" cy="100.3" r="1.5" fill="#486ad7"/><circle cx="320.2" cy="101.2" r="1.2" fill="#615acc"/><circle cx="458.9" cy="98.5" r="1.2" fill="#d22185"/><circle cx="485.4" cy="96.8" r="1.5" fill="#e51770"/><circle cx="513.5" cy="97.9" r="1.4" fill="#fc0a57"/><circle cx="511.3" cy="100.6" r="1.2" fill="#f01064"/><circle cx="313.3" cy="92.7" r="1.4" fill="#6359cb"/><circle cx="301.5" cy="97.9" r="1.4" fill="#3d71dc"/><circle cx="473.2" cy="96.3" r="1.0" fill="#e41771"/><circle cx="367.6" cy="96.7" r="1.3" fill="#7e49bf"/><circle cx="267.1" cy="98.3" r="1.7" fill="#2b7ee3"/><circle cx="347.0" cy="101.2" r="1.4" fill="#754fc3"/><circle cx="415.9" cy="94.6" r="1.1" fill="#8745ba"/><circle cx="504.0" cy="100.8" r="1.1" fill="#fd0956"/><circle cx="479.5" cy="97.8" r="1.5" fill="#f30f61"/><circle cx="464.3" cy="103.0" r="1.6" fill="#e41771"/><circle cx="451.1" cy="98.7" r="1.5" fill="#b82e98"/><circle cx="314.3" cy="98.5" r="1.1" fill="#5660d1"/><circle cx="519.9" cy="101.0" r="1.0" fill="#fd0956"/><circle cx="283.5" cy="105.2" r="1.5" fill="#2880e4"/><circle cx="386.2" cy="97.5" r="1.6" fill="#8446bb"/><circle cx="313.5" cy="96.0" r="1.6" fill="#5e5cce"/><circle cx="491.7" cy="99.4" r="1.6" fill="#fb0a58"/><circle cx="303.8" cy="93.8" r="1.5" fill="#4a68d6"/><circle cx="522.8" cy="100.5" r="1.7" fill="#ff0854"/><circle cx="364.3" cy="97.2" r="1.5" fill="#7b4bc0"/><circle cx="398.0" cy="97.8" r="1.0" fill="#a636a4"/><circle cx="452.2" cy="99.6" r="1.7" fill="#c52890"/><circle cx="325.6" cy="102.6" r="1.0" fill="#6558ca"/><circle cx="424.7" cy="101.4" r="1.2" fill="#bd2c95"/><circle cx="326.9" cy="96.3" r="1.5" fill="#6d53c7"/><circle cx="542.1" cy="100.1" r="1.2" fill="#ff0854"/><circle cx="359.6" cy="98.5" r="1.4" fill="#8944b8"/><circle cx="332.4" cy="101.4" r="1.6" fill="#5b5dcf"/><circle cx="450.4" cy="98.6" r="1.7" fill="#b52f9a"/><circle cx="357.6" cy="102.7" r="1.5" fill="#7350c4"/><circle cx="516.8" cy="98.1" r="1.5" fill="#fb0a58"/><circle cx="253.8" cy="98.0" r="1.1" fill="#2980e4"/><circle cx="545.0" cy="99.3" r="1.6" fill="#fe0955"/><circle cx="482.2" cy="97.5" r="1.1" fill="#fb0a58"/><circle cx="328.5" cy="97.0" r="1.7" fill="#5d5cce"/><circle cx="538.9" cy="99.2" r="1.7" fill="#fe0955"/><circle cx="252.1" cy="100.8" r="1.3" fill="#2c7de3"/><circle cx="398.2" cy="97.5" r="1.2" fill="#8d42b5"/><circle cx="398.3" cy="101.1" r="1.0" fill="#8247bc"/><circle cx="306.7" cy="96.2" r="1.2" fill="#426eda"/><circle cx="430.7" cy="99.6" r="1.5" fill="#993cad"/><circle cx="348.4" cy="97.5" r="1.1" fill="#6657ca"/><circle cx="319.5" cy="91.8" r="1.0" fill="#5d5cce"/><circle cx="328.3" cy="96.6" r="1.4" fill="#734fc4"/><circle cx="316.7" cy="97.1" r="1.0" fill="#5163d3"/><circle cx="365.5" cy="100.0" r="1.0" fill="#7e49bf"/><circle cx="441.4" cy="101.3" r="1.6" fill="#be2b94"/><circle cx="421.0" cy="100.6" r="1.4" fill="#9140b2"/><circle cx="417.5" cy="103.9" r="1.1" fill="#c42890"/><circle cx="426.3" cy="102.8" r="1.2" fill="#963eaf"/><circle cx="328.1" cy="102.0" r="1.1" fill="#6f52c6"/><circle cx="387.7" cy="101.3" r="1.4" fill="#7e49bf"/><circle cx="404.8" cy="103.1" r="1.2" fill="#963eaf"/><circle cx="426.6" cy="99.9" r="1.5" fill="#a238a7"/><circle cx="368.3" cy="92.6" r="1.2" fill="#754fc3"/><circle cx="319.3" cy="99.2" r="1.6" fill="#6b54c8"/><circle cx="517.7" cy="102.0" r="1.5" fill="#fd0956"/><circle cx="408.4" cy="99.8" r="1.1" fill="#a835a3"/><circle cx="450.9" cy="97.8" r="1.3" fill="#be2b94"/><circle cx="378.2" cy="97.9" r="1.1" fill="#943fb0"/><circle cx="315.4" cy="97.2" r="1.5" fill="#615acc"/><circle cx="292.0" cy="92.9" r="1.5" fill="#3179e0"/><circle cx="327.7" cy="98.6" r="1.6" fill="#6558ca"/><circle cx="444.7" cy="101.1" r="1.2" fill="#bc2c95"/><circle cx="540.6" cy="100.9" r="1.5" fill="#ff0854"/><circle cx="316.5" cy="91.1" r="1.4" fill="#5462d2"/><circle cx="476.3" cy="96.3" r="1.5" fill="#e31772"/><circle cx="359.3" cy="96.3" r="1.1" fill="#7a4bc1"/><circle cx="451.7" cy="100.2" r="1.0" fill="#c5288f"/><circle cx="496.8" cy="100.5" r="1.2" fill="#f01165"/><circle cx="475.0" cy="100.5" r="1.1" fill="#ec1369"/><circle cx="409.3" cy="101.9" r="1.1" fill="#a138a7"/><circle cx="534.6" cy="99.5" r="1.3" fill="#f90b5a"/><circle cx="317.6" cy="101.2" r="1.2" fill="#585fd0"/><circle cx="325.2" cy="95.9" r="1.2" fill="#5a5ecf"/><circle cx="378.7" cy="95.6" r="1.6" fill="#a139a8"/><circle cx="531.8" cy="101.5" r="1.4" fill="#fb0a58"/><circle cx="367.7" cy="103.1" r="1.4" fill="#8944b8"/><circle cx="369.7" cy="103.7" r="1.4" fill="#7f49be"/><circle cx="375.9" cy="94.0" r="1.4" fill="#8e41b4"/><circle cx="480.9" cy="101.5" r="1.6" fill="#e01975"/><circle cx="419.0" cy="97.6" r="1.4" fill="#963daf"/><circle cx="250.9" cy="98.4" r="1.7" fill="#2880e4"/><circle cx="387.6" cy="102.7" r="1.3" fill="#8c43b6"/><circle cx="365.3" cy="100.6" r="1.6" fill="#7350c4"/><circle cx="543.7" cy="98.6" r="1.3" fill="#fe0855"/><circle cx="421.8" cy="99.4" r="1.2" fill="#933fb1"/><circle cx="530.9" cy="101.2" r="1.7" fill="#ff0854"/><circle cx="498.9" cy="96.0" r="1.6" fill="#fe0955"/><circle cx="499.8" cy="96.3" r="1.4" fill="#f70c5d"/><circle cx="382.4" cy="96.5" r="1.6" fill="#8745b9"/><circle cx="518.5" cy="97.6" r="1.2" fill="#ff0854"/><circle cx="379.9" cy="97.0" r="1.3" fill="#9240b2"/><circle cx="543.6" cy="100.1" r="1.7" fill="#ff0854"/><circle cx="305.0" cy="94.8" r="1.6" fill="#4d66d5"/><circle cx="535.4" cy="99.9" r="1.5" fill="#ff0854"/><circle cx="466.6" cy="97.0" r="1.3" fill="#d52082"/><circle cx="345.5" cy="100.3" r="1.2" fill="#7d4abf"/><circle cx="317.8" cy="93.4" r="1.7" fill="#585fd0"/><circle cx="328.0" cy="97.1" r="1.0" fill="#5e5cce"/><circle cx="440.1" cy="98.2" r="1.6" fill="#953eb0"/><circle cx="413.3" cy="96.2" r="1.1" fill="#9a3cac"/><circle cx="397.6" cy="98.0" r="1.6" fill="#8745b9"/><circle cx="331.7" cy="97.7" r="1.4" fill="#6757c9"/><circle cx="439.0" cy="103.2" r="1.1" fill="#ae339f"/><circle cx="379.4" cy="101.4" r="1.3" fill="#8d42b5"/><circle cx="442.6" cy="101.4" r="1.2" fill="#c42890"/><circle cx="327.0" cy="94.7" r="1.5" fill="#6558cb"/><circle cx="312.7" cy="103.8" r="1.2" fill="#5561d2"/><circle cx="403.6" cy="100.6" r="1.3" fill="#993cad"/><circle cx="310.4" cy="106.7" r="1.3" fill="#5660d1"/><circle cx="444.9" cy="99.6" r="1.1" fill="#c7278e"/><circle cx="366.1" cy="101.6" r="1.2" fill="#7c4ac0"/><circle cx="308.5" cy="98.0" r="1.4" fill="#4f65d5"/><circle cx="415.9" cy="96.7" r="1.0" fill="#a238a7"/><circle cx="357.3" cy="99.7" r="1.5" fill="#7151c5"/><circle cx="299.0" cy="97.1" r="1.2" fill="#3c72dc"/><circle cx="362.4" cy="96.7" r="1.1" fill="#7d4ac0"/><circle cx="295.9" cy="106.9" r="1.4" fill="#2d7ce2"/><circle cx="515.5" cy="101.8" r="1.6" fill="#fb0a58"/><circle cx="256.9" cy="99.7" r="1.4" fill="#297fe3"/><circle cx="396.1" cy="101.2" r="1.1" fill="#8745b9"/><circle cx="415.3" cy="96.0" r="1.5" fill="#973dae"/><circle cx="531.0" cy="101.1" r="1.3" fill="#ff0854"/><circle cx="364.9" cy="99.1" r="1.2" fill="#784dc2"/><circle cx="442.5" cy="99.7" r="1.7" fill="#cc258b"/><circle cx="524.8" cy="101.3" r="1.6" fill="#fb0a58"/><circle cx="479.5" cy="98.1" r="1.7" fill="#f50e5f"/><circle cx="297.0" cy="94.1" r="1.7" fill="#3875de"/><circle cx="289.7" cy="105.8" r="1.0" fill="#2b7ee3"/><circle cx="281.5" cy="98.4" r="1.4" fill="#2b7ee3"/><circle cx="471.4" cy="98.6" r="1.6" fill="#d81e7e"/><circle cx="477.2" cy="99.2" r="1.2" fill="#e6166f"/><circle cx="523.1" cy="100.5" r="1.1" fill="#ff0854"/><circle cx="363.1" cy="96.2" r="1.0" fill="#8446bb"/><circle cx="307.3" cy="106.5" r="1.3" fill="#4e65d5"/><circle cx="505.9" cy="99.1" r="1.2" fill="#ff0854"/><circle cx="348.2" cy="97.5" r="1.4" fill="#6f52c6"/><circle cx="375.2" cy="103.5" r="1.6" fill="#8148be"/><circle cx="429.8" cy="102.3" r="1.4" fill="#af329f"/><circle cx="360.4" cy="96.0" r="1.2" fill="#774dc2"/><circle cx="504.9" cy="98.1" r="1.1" fill="#f01064"/><circle cx="427.3" cy="98.7" r="1.3" fill="#9b3bac"/><circle cx="492.6" cy="98.5" r="1.1" fill="#f70c5c"/><circle cx="351.1" cy="100.9" r="1.3" fill="#6b54c8"/><circle cx="436.7" cy="100.9" r="1.2" fill="#a935a2"/><circle cx="338.7" cy="99.3" r="1.5" fill="#7d4abf"/><circle cx="461.2" cy="96.8" r="1.4" fill="#d42083"/><circle cx="490.5" cy="101.5" r="1.4" fill="#f90c5b"/><circle cx="367.6" cy="101.8" r="1.4" fill="#7b4bc0"/><circle cx="331.4" cy="99.5" r="1.3" fill="#6756c9"/><circle cx="426.2" cy="101.6" r="1.2" fill="#b3309c"/><circle cx="353.9" cy="98.1" r="1.7" fill="#6a55c8"/><circle cx="398.5" cy="102.2" r="1.3" fill="#9240b2"/><circle cx="263.0" cy="102.7" r="1.7" fill="#2e7ce2"/><circle cx="446.7" cy="100.2" r="1.5" fill="#c02a93"/><circle cx="438.3" cy="101.2" r="1.0" fill="#a736a4"/><circle cx="323.7" cy="96.0" r="1.2" fill="#5760d1"/><circle cx="265.9" cy="102.8" r="1.6" fill="#2a7fe3"/><circle cx="271.9" cy="99.0" r="1.1" fill="#2880e4"/><circle cx="363.5" cy="96.9" r="1.6" fill="#8546bb"/><circle cx="311.5" cy="90.7" r="1.3" fill="#5760d1"/><circle cx="425.5" cy="96.3" r="1.1" fill="#a238a7"/><circle cx="499.7" cy="96.8" r="1.1" fill="#f80c5c"/><circle cx="470.3" cy="101.9" r="1.2" fill="#e31872"/><circle cx="395.4" cy="99.9" r="1.2" fill="#9e3aaa"/><circle cx="284.2" cy="94.3" r="1.1" fill="#2e7ce2"/><circle cx="297.6" cy="99.3" r="1.7" fill="#3a74dd"/><circle cx="473.3" cy="96.3" r="1.2" fill="#ee1166"/><circle cx="311.3" cy="105.3" r="1.3" fill="#5461d2"/><circle cx="533.2" cy="98.4" r="1.6" fill="#ff0854"/><circle cx="313.0" cy="99.3" r="1.6" fill="#5064d4"/><circle cx="508.8" cy="100.5" r="1.6" fill="#ff0854"/><circle cx="272.5" cy="94.1" r="1.2" fill="#2c7de2"/><circle cx="254.5" cy="100.1" r="1.0" fill="#2b7ee3"/><circle cx="545.4" cy="99.6" r="1.2" fill="#f70c5d"/><circle cx="466.3" cy="99.8" r="1.1" fill="#e11975"/><circle cx="291.7" cy="100.7" r="1.4" fill="#3875de"/><circle cx="334.0" cy="98.8" r="1.4" fill="#754fc3"/><circle cx="529.5" cy="101.1" r="1.3" fill="#fb0a59"/><circle cx="423.4" cy="95.9" r="1.7" fill="#a338a6"/><circle cx="454.4" cy="97.8" r="1.5" fill="#a636a5"/><circle cx="522.8" cy="97.9" r="1.3" fill="#ff0854"/><circle cx="499.0" cy="96.7" r="1.4" fill="#ea146b"/><circle cx="510.9" cy="102.6" r="1.0" fill="#fd0956"/><circle cx="421.4" cy="97.6" r="1.5" fill="#9a3cac"/><circle cx="277.5" cy="95.9" r="1.0" fill="#3279e0"/><circle cx="459.4" cy="96.0" r="1.0" fill="#d12286"/><circle cx="463.1" cy="99.1" r="1.6" fill="#d71f80"/><circle cx="488.9" cy="103.0" r="1.1" fill="#f40e60"/><circle cx="477.6" cy="96.9" r="1.1" fill="#d61f80"/><circle cx="258.3" cy="99.5" r="1.1" fill="#2880e4"/><circle cx="447.3" cy="101.1" r="1.4" fill="#a338a7"/><circle cx="407.1" cy="101.9" r="1.1" fill="#8347bc"/><circle cx="530.4" cy="99.9" r="1.6" fill="#fe0955"/><circle cx="480.4" cy="101.7" r="1.1" fill="#e9146b"/><circle cx="475.1" cy="97.7" r="1.6" fill="#da1d7c"/><circle cx="361.6" cy="101.9" r="1.0" fill="#7f49be"/><circle cx="394.6" cy="97.7" r="1.4" fill="#9e3aaa"/><circle cx="313.3" cy="106.6" r="1.1" fill="#5362d2"/><circle cx="343.2" cy="99.1" r="1.4" fill="#764ec3"/><circle cx="438.0" cy="97.8" r="1.1" fill="#963eaf"/><circle cx="496.7" cy="99.1" r="1.2" fill="#f01064"/><circle cx="473.7" cy="97.1" r="1.4" fill="#dd1b79"/><circle cx="369.2" cy="101.2" r="1.4" fill="#8247bd"/><circle cx="285.1" cy="103.8" r="1.7" fill="#2c7de2"/><circle cx="346.9" cy="97.7" r="1.6" fill="#784cc1"/><circle cx="499.3" cy="100.9" r="1.7" fill="#f50e5f"/><circle cx="251.1" cy="100.9" r="1.3" fill="#297fe3"/><circle cx="418.0" cy="99.2" r="1.5" fill="#a039a9"/><circle cx="353.8" cy="97.0" r="1.1" fill="#794cc1"/><circle cx="254.2" cy="100.9" r="1.5" fill="#2f7be1"/><circle cx="353.5" cy="102.7" r="1.3" fill="#7151c5"/><circle cx="471.2" cy="97.2" r="1.6" fill="#d81e7e"/><circle cx="276.0" cy="96.5" r="1.0" fill="#307ae1"/><circle cx="527.6" cy="98.3" r="1.3" fill="#ff0854"/><circle cx="312.7" cy="107.6" r="1.5" fill="#595fd0"/><circle cx="454.2" cy="98.9" r="1.7" fill="#c02a93"/><circle cx="454.2" cy="99.6" r="1.0" fill="#df1a77"/><circle cx="395.5" cy="100.6" r="1.7" fill="#8f41b4"/><circle cx="366.1" cy="99.3" r="1.3" fill="#764ec2"/><circle cx="378.4" cy="93.1" r="1.1" fill="#963eaf"/><circle cx="406.5" cy="102.4" r="1.5" fill="#a437a6"/><circle cx="432.7" cy="102.7" r="1.5" fill="#b3309b"/><circle cx="333.7" cy="99.2" r="1.4" fill="#6856c9"/><circle cx="535.7" cy="99.4" r="1.1" fill="#ff0854"/><circle cx="542.7" cy="99.2" r="1.6" fill="#fd0957"/><circle cx="289.9" cy="102.5" r="1.5" fill="#3378e0"/><circle cx="366.3" cy="97.5" r="1.3" fill="#7f48be"/><circle cx="532.8" cy="99.2" r="1.5" fill="#fd0956"/><circle cx="269.0" cy="100.8" r="1.5" fill="#2b7ee3"/><circle cx="313.5" cy="99.8" r="1.7" fill="#5462d2"/><circle cx="493.9" cy="97.1" r="1.4" fill="#f01064"/><circle cx="290.3" cy="98.2" r="1.4" fill="#297fe4"/><circle cx="438.2" cy="100.9" r="1.3" fill="#b72e99"/><circle cx="474.0" cy="97.7" r="1.3" fill="#e21874"/><circle cx="356.7" cy="96.2" r="1.2" fill="#8048be"/><circle cx="386.8" cy="99.3" r="1.6" fill="#8d42b5"/><circle cx="295.0" cy="108.4" r="1.1" fill="#3b73dc"/><circle cx="330.1" cy="100.3" r="1.5" fill="#6b55c8"/><circle cx="529.3" cy="98.1" r="1.2" fill="#fb0b59"/><circle cx="361.1" cy="100.9" r="1.0" fill="#794cc1"/><circle cx="275.1" cy="96.9" r="1.0" fill="#2d7ce2"/><circle cx="413.4" cy="101.4" r="1.5" fill="#9b3bac"/><circle cx="514.3" cy="102.7" r="1.4" fill="#f90b5a"/><circle cx="453.1" cy="98.5" r="1.7" fill="#be2b94"/><circle cx="396.3" cy="96.0" r="1.5" fill="#8048be"/><circle cx="522.3" cy="100.5" r="1.5" fill="#fe0955"/><circle cx="358.0" cy="95.0" r="1.6" fill="#784dc2"/><circle cx="328.1" cy="96.5" r="1.2" fill="#5f5bcd"/><circle cx="390.2" cy="98.5" r="1.5" fill="#9240b2"/><circle cx="480.1" cy="96.4" r="1.3" fill="#f20f62"/><circle cx="485.7" cy="97.3" r="1.5" fill="#ee1166"/><circle cx="422.9" cy="96.3" r="1.6" fill="#cd248a"/><circle cx="318.7" cy="100.5" r="1.1" fill="#5d5dce"/><circle cx="295.3" cy="92.9" r="1.3" fill="#307ae1"/><circle cx="302.3" cy="105.2" r="1.1" fill="#446dd9"/><circle cx="489.9" cy="98.1" r="1.4" fill="#f40e60"/><circle cx="384.6" cy="96.2" r="1.6" fill="#953eb0"/><circle cx="519.1" cy="100.5" r="1.3" fill="#ff0854"/><circle cx="525.9" cy="101.0" r="1.4" fill="#fe0955"/><circle cx="410.2" cy="103.4" r="1.3" fill="#9c3bab"/><circle cx="345.0" cy="99.8" r="1.1" fill="#744fc3"/><circle cx="414.9" cy="97.9" r="1.1" fill="#933fb1"/><circle cx="270.6" cy="96.8" r="1.3" fill="#3378e0"/><circle cx="296.1" cy="98.8" r="1.1" fill="#3875dd"/><circle cx="328.4" cy="97.1" r="1.5" fill="#6b55c8"/><circle cx="431.5" cy="97.9" r="1.5" fill="#9d3aaa"/><circle cx="488.2" cy="103.0" r="1.6" fill="#e9146c"/><circle cx="253.9" cy="100.1" r="1.5" fill="#2880e4"/><circle cx="524.0" cy="100.8" r="1.4" fill="#ff0854"/><circle cx="290.7" cy="94.0" r="1.3" fill="#2880e4"/><circle cx="485.7" cy="102.8" r="1.3" fill="#f30f61"/><circle cx="262.3" cy="101.6" r="1.6" fill="#2b7ee3"/><circle cx="314.6" cy="93.0" r="1.3" fill="#5362d2"/><circle cx="421.4" cy="98.0" r="1.6" fill="#a736a4"/><circle cx="525.0" cy="100.0" r="1.6" fill="#fe0855"/><circle cx="305.2" cy="95.1" r="1.4" fill="#4e65d5"/><circle cx="427.6" cy="97.8" r="1.5" fill="#a935a2"/><circle cx="377.9" cy="94.0" r="1.2" fill="#8546bb"/><circle cx="500.7" cy="101.3" r="1.7" fill="#ff0854"/><circle cx="325.7" cy="95.9" r="1.5" fill="#5c5dce"/><circle cx="527.6" cy="98.3" r="1.0" fill="#f90c5b"/><circle cx="507.4" cy="98.2" r="1.3" fill="#ff0854"/><circle cx="278.8" cy="93.9" r="1.1" fill="#2f7be1"/><circle cx="409.5" cy="100.3" r="1.5" fill="#7b4bc0"/><circle cx="319.5" cy="104.2" r="1.1" fill="#5d5dce"/><circle cx="491.3" cy="102.8" r="1.5" fill="#ee1267"/><circle cx="515.2" cy="99.1" r="1.3" fill="#fa0b5a"/><circle cx="483.5" cy="98.3" r="1.0" fill="#f11064"/><circle cx="415.9" cy="96.4" r="1.7" fill="#8844b9"/><circle cx="486.7" cy="98.5" r="1.4" fill="#f80c5c"/><circle cx="331.3" cy="98.2" r="1.3" fill="#6359cb"/><circle cx="321.9" cy="102.1" r="1.2" fill="#5f5bcd"/><circle cx="525.1" cy="98.4" r="1.2" fill="#fc0a57"/><circle cx="469.4" cy="100.3" r="1.7" fill="#e31872"/><circle cx="281.4" cy="94.1" r="1.0" fill="#297fe4"/><circle cx="413.2" cy="96.2" r="1.6" fill="#b4309b"/><circle cx="341.4" cy="101.4" r="1.2" fill="#7151c5"/><circle cx="267.9" cy="96.8" r="1.6" fill="#2880e4"/><circle cx="537.2" cy="99.7" r="1.3" fill="#f90c5b"/><circle cx="404.5" cy="100.8" r="1.6" fill="#a736a4"/><circle cx="517.3" cy="100.6" r="1.5" fill="#ff0854"/><circle cx="386.8" cy="101.3" r="1.5" fill="#8745b9"/><circle cx="337.1" cy="100.8" r="1.5" fill="#754fc3"/><circle cx="509.9" cy="98.9" r="1.3" fill="#ff0854"/><circle cx="475.2" cy="96.2" r="1.4" fill="#e9146c"/><circle cx="281.2" cy="106.3" r="1.6" fill="#307be1"/><circle cx="533.3" cy="98.5" r="1.1" fill="#fb0a59"/><circle cx="534.5" cy="99.3" r="1.5" fill="#fd0956"/><circle cx="454.6" cy="97.4" r="1.5" fill="#c02a92"/><circle cx="322.9" cy="101.4" r="1.2" fill="#5760d1"/><circle cx="440.5" cy="98.4" r="1.3" fill="#933fb1"/><circle cx="485.2" cy="98.4" r="1.4" fill="#eb1369"/><circle cx="441.5" cy="101.0" r="1.5" fill="#af329f"/><circle cx="516.8" cy="97.4" r="1.6" fill="#fb0a58"/><circle cx="445.6" cy="102.1" r="1.1" fill="#bd2b94"/><circle cx="317.3" cy="105.0" r="1.0" fill="#625acc"/><circle cx="300.2" cy="96.3" r="1.2" fill="#406fda"/><circle cx="298.5" cy="99.9" r="1.1" fill="#416eda"/><circle cx="474.5" cy="100.4" r="1.3" fill="#df1a76"/><circle cx="525.3" cy="101.6" r="1.1" fill="#fd0956"/><circle cx="473.0" cy="102.8" r="1.4" fill="#e31772"/><circle cx="483.2" cy="98.1" r="1.1" fill="#f01165"/><circle cx="342.7" cy="98.7" r="1.0" fill="#6e52c6"/><circle cx="494.0" cy="102.7" r="1.7" fill="#f60d5e"/><circle cx="332.5" cy="99.5" r="1.6" fill="#6a55c8"/><circle cx="523.7" cy="97.4" r="1.0" fill="#ff0854"/><circle cx="440.3" cy="97.8" r="1.7" fill="#a636a4"/><circle cx="509.5" cy="102.2" r="1.1" fill="#fa0b59"/><circle cx="545.1" cy="99.7" r="1.4" fill="#fb0a59"/><circle cx="293.9" cy="100.9" r="1.3" fill="#3775de"/><circle cx="539.9" cy="101.2" r="1.5" fill="#ff0854"/><circle cx="410.6" cy="100.2" r="1.1" fill="#933fb1"/><circle cx="314.9" cy="92.4" r="1.1" fill="#585fd0"/><circle cx="511.4" cy="100.9" r="1.6" fill="#fe0855"/><circle cx="381.2" cy="94.1" r="1.3" fill="#8f41b4"/><circle cx="378.0" cy="103.1" r="1.3" fill="#8446bb"/><circle cx="364.5" cy="96.9" r="1.1" fill="#784dc2"/><circle cx="528.7" cy="100.5" r="1.0" fill="#f60d5e"/><circle cx="372.1" cy="104.6" r="1.4" fill="#8e42b5"/><circle cx="520.0" cy="101.0" r="1.2" fill="#f40e5f"/><circle cx="460.8" cy="100.5" r="1.6" fill="#da1d7c"/><circle cx="295.2" cy="102.0" r="1.5" fill="#3d71dc"/><circle cx="482.6" cy="101.9" r="1.3" fill="#fb0b59"/><circle cx="261.2" cy="99.7" r="1.5" fill="#2880e4"/><circle cx="363.5" cy="96.6" r="1.5" fill="#784dc2"/><circle cx="273.2" cy="100.5" r="1.7" fill="#2c7de2"/><circle cx="474.7" cy="99.1" r="1.2" fill="#e41771"/><circle cx="278.8" cy="93.0" r="1.2" fill="#317ae0"/><circle cx="282.2" cy="103.6" r="1.3" fill="#2f7be1"/><circle cx="500.6" cy="103.2" r="1.2" fill="#fe0955"/><circle cx="389.6" cy="100.9" r="1.1" fill="#973dae"/><circle cx="412.3" cy="100.3" r="1.7" fill="#9e3aa9"/><circle cx="500.9" cy="97.1" r="1.1" fill="#ff0854"/><circle cx="457.5" cy="99.7" r="1.5" fill="#c7278e"/><circle cx="316.6" cy="101.6" r="1.1" fill="#5f5bcd"/><circle cx="339.6" cy="101.5" r="1.4" fill="#7250c5"/><circle cx="337.6" cy="99.3" r="1.4" fill="#6856c9"/><circle cx="372.6" cy="97.2" r="1.4" fill="#963eaf"/><circle cx="379.3" cy="98.2" r="1.3" fill="#8148bd"/><circle cx="395.3" cy="102.4" r="1.4" fill="#8a43b7"/><circle cx="397.7" cy="97.5" r="1.1" fill="#973daf"/><circle cx="537.3" cy="100.6" r="1.7" fill="#fd0956"/><circle cx="441.1" cy="97.3" r="1.3" fill="#993cad"/><circle cx="526.0" cy="97.6" r="1.0" fill="#fb0a58"/><circle cx="285.7" cy="95.5" r="1.1" fill="#307be1"/><circle cx="452.6" cy="99.2" r="1.7" fill="#b62f99"/><circle cx="489.0" cy="102.0" r="1.7" fill="#f40e60"/><circle cx="296.2" cy="105.9" r="1.7" fill="#3875dd"/><circle cx="438.1" cy="100.0" r="1.5" fill="#cd248a"/><circle cx="529.8" cy="98.4" r="1.2" fill="#fc0a58"/><circle cx="485.9" cy="99.3" r="1.4" fill="#fd0957"/><circle cx="321.9" cy="95.2" r="1.7" fill="#625acc"/><circle cx="542.0" cy="100.2" r="1.5" fill="#fe0955"/><circle cx="357.5" cy="94.8" r="1.5" fill="#7c4ac0"/><circle cx="434.8" cy="100.1" r="1.1" fill="#b0319d"/><circle cx="366.5" cy="99.4" r="1.2" fill="#6e52c6"/><circle cx="466.4" cy="97.0" r="1.5" fill="#da1d7c"/><circle cx="291.9" cy="103.0" r="1.4" fill="#3e70db"/><circle cx="393.2" cy="102.3" r="1.5" fill="#933fb1"/><circle cx="299.6" cy="102.4" r="1.4" fill="#426eda"/><circle cx="399.4" cy="100.8" r="1.6" fill="#8347bc"/><circle cx="432.0" cy="95.9" r="1.6" fill="#bf2a93"/><circle cx="468.9" cy="103.0" r="1.1" fill="#e41771"/><circle cx="525.3" cy="99.7" r="1.3" fill="#ff0854"/><circle cx="279.9" cy="96.3" r="1.3" fill="#2c7de2"/><circle cx="433.9" cy="99.9" r="1.1" fill="#c6278f"/><circle cx="485.1" cy="100.5" r="1.0" fill="#f80c5b"/><circle cx="364.7" cy="99.0" r="1.1" fill="#784cc1"/><circle cx="452.2" cy="100.3" r="1.5" fill="#ca258c"/><circle cx="334.6" cy="100.6" r="1.6" fill="#6f52c6"/><circle cx="326.6" cy="102.7" r="1.3" fill="#7051c5"/><circle cx="478.7" cy="96.7" r="1.2" fill="#e01a76"/><circle cx="437.1" cy="97.9" r="1.3" fill="#ad33a0"/><circle cx="331.4" cy="98.1" r="1.3" fill="#7151c5"/><circle cx="493.2" cy="97.4" r="1.5" fill="#f60d5e"/><circle cx="362.6" cy="101.7" r="1.5" fill="#7350c4"/><circle cx="327.1" cy="98.6" r="1.5" fill="#6956c9"/><circle cx="310.1" cy="97.9" r="1.4" fill="#5263d3"/><circle cx="291.6" cy="107.4" r="1.3" fill="#3279e0"/><circle cx="476.3" cy="96.6" r="1.7" fill="#e6166e"/><circle cx="427.7" cy="101.6" r="1.2" fill="#ae329f"/><circle cx="325.1" cy="99.9" r="1.7" fill="#5d5cce"/><circle cx="281.4" cy="94.8" r="1.5" fill="#2a7fe3"/><circle cx="344.4" cy="100.5" r="1.1" fill="#7350c4"/><circle cx="278.7" cy="102.9" r="1.2" fill="#2c7de2"/><circle cx="357.2" cy="100.2" r="1.2" fill="#7c4ac0"/><circle cx="309.8" cy="100.7" r="1.1" fill="#5362d3"/><circle cx="388.5" cy="96.7" r="1.3" fill="#8347bc"/><circle cx="288.1" cy="92.7" r="1.4" fill="#3279e0"/><circle cx="489.3" cy="100.0" r="1.5" fill="#fb0a59"/><circle cx="331.6" cy="97.1" r="1.1" fill="#6a55c8"/><circle cx="487.1" cy="101.8" r="1.6" fill="#ec1369"/><circle cx="527.5" cy="97.7" r="1.0" fill="#ff0854"/><circle cx="455.4" cy="102.5" r="1.4" fill="#c12a92"/><circle cx="363.9" cy="97.9" r="1.6" fill="#8b43b7"/><circle cx="367.1" cy="98.3" r="1.3" fill="#7d4abf"/><circle cx="326.4" cy="101.8" r="1.5" fill="#6259cc"/><circle cx="454.4" cy="102.6" r="1.7" fill="#bf2b94"/><circle cx="467.1" cy="102.8" r="1.5" fill="#de1a77"/><circle cx="455.9" cy="98.7" r="1.2" fill="#cc258b"/><circle cx="513.6" cy="102.6" r="1.5" fill="#fd0956"/><circle cx="453.0" cy="95.9" r="1.3" fill="#ca258c"/><circle cx="326.4" cy="102.4" r="1.6" fill="#6359cb"/><circle cx="519.8" cy="98.7" r="1.1" fill="#fb0a59"/><circle cx="326.7" cy="101.6" r="1.4" fill="#6657ca"/><circle cx="260.5" cy="102.5" r="1.4" fill="#3279e0"/><circle cx="436.4" cy="100.5" r="1.3" fill="#bc2c96"/><circle cx="473.9" cy="100.0" r="1.1" fill="#ee1166"/><circle cx="296.9" cy="98.0" r="1.3" fill="#3a73dd"/><circle cx="466.8" cy="98.6" r="1.4" fill="#d32183"/><circle cx="395.0" cy="100.7" r="1.4" fill="#8e42b5"/><circle cx="385.7" cy="102.6" r="1.2" fill="#8d42b5"/><circle cx="487.3" cy="99.7" r="1.1" fill="#fd0957"/><circle cx="373.9" cy="103.8" r="1.6" fill="#8347bc"/><circle cx="525.8" cy="100.7" r="1.4" fill="#f80c5c"/><circle cx="281.0" cy="101.0" r="1.6" fill="#307be1"/><circle cx="437.2" cy="99.5" r="1.1" fill="#a238a7"/><circle cx="291.1" cy="91.6" r="1.3" fill="#3b72dc"/><circle cx="488.3" cy="101.4" r="1.5" fill="#ef1165"/><circle cx="421.5" cy="99.5" r="1.6" fill="#7d4abf"/><circle cx="255.0" cy="99.5" r="1.6" fill="#2c7de2"/><circle cx="276.8" cy="100.5" r="1.6" fill="#2880e4"/><circle cx="436.6" cy="96.6" r="1.4" fill="#b92e98"/><circle cx="427.8" cy="103.2" r="1.2" fill="#ab34a1"/><circle cx="426.4" cy="100.1" r="1.6" fill="#b4309b"/><circle cx="394.0" cy="102.0" r="1.0" fill="#953eb0"/><circle cx="315.0" cy="104.1" r="1.3" fill="#5e5cce"/></g></g>
<path d="M290.0,141.6 C290.0,141.1 290.4,140.5 290.8,140.2 C291.2,139.9 291.4,140.2 292.6,140.0 C293.8,139.8 296.2,139.2 298.1,138.8 C300.0,138.4 301.8,137.9 303.7,137.4 C305.6,136.9 307.4,136.2 309.3,135.8 C311.2,135.4 313.0,135.1 314.8,134.7 C316.6,134.3 318.9,133.9 320.4,133.6 C321.9,133.3 322.8,132.9 324.0,133.0 C325.2,133.1 326.1,133.6 327.6,134.1 C329.1,134.6 331.4,135.1 333.1,135.8 C334.9,136.6 336.7,138.7 338.1,138.6 C339.5,138.5 340.3,136.2 341.5,135.2 C342.7,134.2 344.0,132.9 345.4,132.7 C346.8,132.5 348.3,133.5 349.8,134.1 C351.3,134.7 352.7,135.3 354.3,136.1 C355.9,136.9 358.1,139.0 359.5,138.8 C360.9,138.6 361.4,135.8 362.5,134.7 C363.6,133.6 364.9,132.9 366.0,132.4 C367.1,131.9 368.1,131.8 369.1,131.9 C370.1,132.0 371.1,132.4 372.0,133.0 C372.9,133.6 373.9,134.3 374.7,135.2 C375.5,136.1 376.2,138.3 376.9,138.4 C377.6,138.5 378.2,136.6 379.0,136.0 C379.8,135.4 380.3,134.6 381.4,134.7 C382.4,134.8 383.6,136.4 385.3,136.7 C387.0,137.0 389.5,136.7 391.4,136.6 C393.3,136.5 393.9,136.2 396.9,136.3 C399.9,136.4 405.1,137.1 409.6,137.3 C414.2,137.6 420.1,137.6 424.2,137.8 C428.2,138.0 430.6,138.1 433.9,138.3 C437.1,138.5 440.4,139.0 443.7,139.2 C446.9,139.4 450.5,139.6 453.4,139.7 C456.3,139.8 459.4,139.5 461.0,139.8 C462.6,140.1 462.8,140.9 462.8,141.5 C462.8,142.1 462.6,142.9 461.0,143.2 C459.4,143.5 456.3,143.0 453.4,143.1 C450.5,143.2 446.9,143.3 443.7,143.6 C440.4,143.8 437.1,144.3 433.9,144.6 C430.6,144.9 428.2,145.3 424.2,145.6 C420.1,145.8 414.2,145.9 409.6,146.1 C405.1,146.3 399.9,146.7 396.9,146.8 C393.9,146.9 393.3,146.9 391.4,146.9 C389.5,146.9 387.0,146.6 385.3,146.9 C383.6,147.2 382.4,148.7 381.4,148.8 C380.3,148.9 379.8,148.2 379.0,147.5 C378.2,146.8 377.6,144.7 376.9,144.9 C376.2,145.1 375.5,147.8 374.7,148.6 C373.9,149.4 372.9,149.2 372.0,149.5 C371.1,149.8 370.1,150.2 369.1,150.2 C368.1,150.2 367.1,150.0 366.0,149.6 C364.9,149.2 363.6,148.3 362.5,147.5 C361.4,146.7 360.9,144.6 359.5,144.6 C358.1,144.6 355.9,146.6 354.3,147.4 C352.7,148.2 351.3,148.9 349.8,149.4 C348.3,149.9 346.8,150.8 345.4,150.5 C344.0,150.2 342.7,148.7 341.5,147.7 C340.3,146.7 339.5,144.8 338.1,144.7 C336.7,144.6 334.9,146.5 333.1,147.2 C331.4,147.9 329.1,148.6 327.6,149.1 C326.1,149.6 325.2,150.0 324.0,150.2 C322.8,150.3 321.9,150.3 320.4,150.0 C318.9,149.7 316.6,149.1 314.8,148.6 C313.0,148.1 311.2,147.7 309.3,147.2 C307.4,146.7 305.6,146.3 303.7,145.8 C301.8,145.3 300.0,144.5 298.1,144.1 C296.2,143.7 293.8,143.5 292.6,143.3 C291.4,143.1 291.2,143.4 290.8,143.1 C290.4,142.8 290.0,142.1 290.0,141.6Z" fill="url(#gr2)"/>
<g clip-path="url(#cr2)"><g opacity="0.75"><circle cx="319.5" cy="139.4" r="1.6" fill="#5c5dcf"/><circle cx="293.3" cy="142.6" r="1.5" fill="#2e7ce2"/><circle cx="295.0" cy="139.6" r="1.3" fill="#2880e4"/><circle cx="415.8" cy="144.5" r="1.7" fill="#dd1b79"/><circle cx="401.1" cy="140.3" r="1.3" fill="#db1c7b"/><circle cx="434.2" cy="141.0" r="1.5" fill="#e7166e"/><circle cx="413.0" cy="144.9" r="1.6" fill="#fe0955"/><circle cx="302.9" cy="139.4" r="1.4" fill="#3c72dc"/><circle cx="364.4" cy="147.0" r="1.6" fill="#aa35a2"/><circle cx="410.1" cy="141.5" r="1.2" fill="#e7156d"/><circle cx="382.5" cy="146.9" r="1.1" fill="#bc2c96"/><circle cx="348.6" cy="141.1" r="1.5" fill="#784dc2"/><circle cx="442.9" cy="142.5" r="1.4" fill="#f80c5c"/><circle cx="319.4" cy="148.6" r="1.3" fill="#446cd9"/><circle cx="441.2" cy="142.0" r="1.2" fill="#ed1268"/><circle cx="423.5" cy="138.7" r="1.4" fill="#e8156d"/><circle cx="319.5" cy="136.4" r="1.5" fill="#4869d7"/><circle cx="362.5" cy="138.5" r="1.6" fill="#6c53c7"/><circle cx="414.5" cy="143.5" r="1.7" fill="#f50e5f"/><circle cx="358.1" cy="142.2" r="1.0" fill="#933fb1"/><circle cx="395.0" cy="145.5" r="1.4" fill="#cf2388"/><circle cx="423.2" cy="140.0" r="1.2" fill="#f30f61"/><circle cx="314.7" cy="142.3" r="1.6" fill="#4b68d6"/><circle cx="380.3" cy="147.4" r="1.5" fill="#953eb0"/><circle cx="317.6" cy="146.3" r="1.4" fill="#6458cb"/><circle cx="312.3" cy="139.0" r="1.2" fill="#5561d2"/><circle cx="359.5" cy="140.2" r="1.6" fill="#ae329f"/><circle cx="372.8" cy="138.9" r="1.1" fill="#c02a93"/><circle cx="459.2" cy="139.8" r="1.5" fill="#fb0a58"/><circle cx="311.5" cy="136.2" r="1.7" fill="#4a68d7"/><circle cx="312.9" cy="140.3" r="1.5" fill="#4d66d5"/><circle cx="335.9" cy="137.6" r="1.1" fill="#a935a2"/><circle cx="399.7" cy="140.0" r="1.3" fill="#c7278e"/><circle cx="369.4" cy="138.2" r="1.3" fill="#8e41b4"/><circle cx="315.0" cy="138.8" r="1.1" fill="#5263d3"/><circle cx="400.9" cy="143.6" r="1.1" fill="#cc248b"/><circle cx="413.0" cy="141.9" r="1.1" fill="#eb136a"/><circle cx="434.0" cy="142.4" r="1.6" fill="#f30f61"/><circle cx="345.9" cy="149.9" r="1.0" fill="#6d53c7"/><circle cx="382.8" cy="140.1" r="1.4" fill="#e31772"/><circle cx="447.0" cy="139.6" r="1.5" fill="#f01164"/><circle cx="441.6" cy="140.6" r="1.1" fill="#ee1266"/><circle cx="333.7" cy="143.2" r="1.1" fill="#6a55c8"/><circle cx="316.6" cy="145.0" r="1.4" fill="#595fd0"/><circle cx="374.5" cy="141.6" r="1.0" fill="#ff0854"/><circle cx="321.2" cy="137.8" r="1.4" fill="#605acc"/><circle cx="438.8" cy="139.3" r="1.0" fill="#ef1166"/><circle cx="420.9" cy="139.9" r="1.7" fill="#f90c5b"/><circle cx="455.5" cy="142.8" r="1.1" fill="#f60d5e"/><circle cx="305.4" cy="145.2" r="1.5" fill="#3a73dd"/><circle cx="413.9" cy="139.4" r="1.5" fill="#ff0854"/><circle cx="413.2" cy="145.5" r="1.3" fill="#ff0854"/><circle cx="406.1" cy="141.4" r="1.4" fill="#df1a76"/><circle cx="452.5" cy="141.0" r="1.2" fill="#f20f62"/><circle cx="451.9" cy="142.2" r="1.5" fill="#f40e5f"/><circle cx="299.1" cy="141.7" r="1.1" fill="#2d7ce2"/><circle cx="422.8" cy="139.3" r="1.6" fill="#e01975"/><circle cx="424.0" cy="142.4" r="1.1" fill="#f80c5c"/><circle cx="406.5" cy="143.3" r="1.4" fill="#e11975"/><circle cx="326.4" cy="134.2" r="1.7" fill="#6359cb"/><circle cx="444.2" cy="141.0" r="1.0" fill="#ff0854"/><circle cx="457.8" cy="142.2" r="1.6" fill="#f90b5a"/><circle cx="290.7" cy="141.2" r="1.5" fill="#2c7de2"/><circle cx="321.0" cy="138.2" r="1.1" fill="#6757ca"/><circle cx="444.9" cy="142.2" r="1.2" fill="#f90b5a"/><circle cx="323.9" cy="136.8" r="1.6" fill="#7350c4"/><circle cx="417.2" cy="145.3" r="1.4" fill="#e9146c"/><circle cx="433.3" cy="141.9" r="1.4" fill="#f80c5b"/><circle cx="338.1" cy="144.0" r="1.5" fill="#754ec3"/><circle cx="329.4" cy="146.8" r="1.6" fill="#6f52c6"/><circle cx="317.3" cy="136.5" r="1.4" fill="#5661d1"/><circle cx="388.0" cy="137.2" r="1.1" fill="#f70c5c"/><circle cx="338.6" cy="144.8" r="1.4" fill="#744fc4"/><circle cx="409.4" cy="144.2" r="1.4" fill="#ff0854"/><circle cx="353.3" cy="140.2" r="1.1" fill="#b0329e"/><circle cx="429.3" cy="141.3" r="1.7" fill="#ff0854"/><circle cx="358.2" cy="138.5" r="1.7" fill="#7b4bc0"/><circle cx="307.1" cy="144.3" r="1.6" fill="#3c72dc"/><circle cx="384.5" cy="145.6" r="1.6" fill="#625acc"/><circle cx="443.9" cy="141.7" r="1.1" fill="#ed1267"/><circle cx="361.6" cy="145.5" r="1.3" fill="#8c42b6"/><circle cx="356.9" cy="139.9" r="1.2" fill="#8745b9"/><circle cx="293.4" cy="141.4" r="1.6" fill="#2880e4"/><circle cx="294.2" cy="142.9" r="1.6" fill="#2c7de2"/><circle cx="427.9" cy="140.5" r="1.1" fill="#e6166f"/><circle cx="365.1" cy="146.4" r="1.6" fill="#8446bc"/><circle cx="461.3" cy="141.6" r="1.5" fill="#fa0b5a"/><circle cx="312.7" cy="141.8" r="1.5" fill="#4c67d5"/><circle cx="371.9" cy="138.0" r="1.7" fill="#8e42b5"/><circle cx="294.3" cy="141.8" r="1.6" fill="#2c7de2"/><circle cx="401.9" cy="141.5" r="1.2" fill="#c7278e"/><circle cx="412.2" cy="139.5" r="1.7" fill="#ef1165"/><circle cx="368.3" cy="137.3" r="1.4" fill="#bb2c96"/><circle cx="424.4" cy="142.4" r="1.2" fill="#f70d5d"/><circle cx="439.5" cy="140.5" r="1.5" fill="#e6166e"/><circle cx="391.6" cy="143.9" r="1.0" fill="#f40e60"/><circle cx="454.9" cy="141.9" r="1.2" fill="#f60d5e"/><circle cx="319.1" cy="149.1" r="1.1" fill="#4f65d4"/><circle cx="331.5" cy="143.6" r="1.5" fill="#5a5ed0"/><circle cx="329.6" cy="135.2" r="1.2" fill="#6757ca"/><circle cx="380.0" cy="141.2" r="1.4" fill="#de1a77"/><circle cx="300.3" cy="140.9" r="1.4" fill="#2c7de2"/><circle cx="378.7" cy="145.7" r="1.3" fill="#a537a5"/><circle cx="322.2" cy="135.5" r="1.5" fill="#4a68d6"/><circle cx="368.4" cy="140.3" r="1.2" fill="#b52f9a"/><circle cx="402.9" cy="141.8" r="1.1" fill="#df1a77"/><circle cx="299.8" cy="143.0" r="1.1" fill="#2880e4"/><circle cx="451.5" cy="139.8" r="1.1" fill="#f70d5d"/><circle cx="352.8" cy="136.3" r="1.6" fill="#c52890"/><circle cx="395.9" cy="146.6" r="1.5" fill="#ac33a0"/><circle cx="384.8" cy="145.7" r="1.6" fill="#ac33a0"/><circle cx="295.8" cy="139.4" r="1.5" fill="#2880e4"/><circle cx="294.7" cy="141.4" r="1.1" fill="#2880e4"/><circle cx="409.0" cy="139.6" r="1.6" fill="#fc0a57"/><circle cx="403.6" cy="143.7" r="1.6" fill="#f60d5e"/><circle cx="361.0" cy="144.4" r="1.2" fill="#784dc2"/><circle cx="412.6" cy="140.6" r="1.4" fill="#ea146b"/><circle cx="451.3" cy="140.0" r="1.1" fill="#fb0a59"/><circle cx="320.0" cy="149.3" r="1.0" fill="#605bcd"/><circle cx="291.9" cy="140.5" r="1.2" fill="#297fe4"/><circle cx="370.1" cy="143.9" r="1.2" fill="#774dc2"/><circle cx="352.7" cy="139.6" r="1.6" fill="#9240b2"/><circle cx="390.6" cy="145.7" r="1.6" fill="#bd2c95"/><circle cx="309.6" cy="137.6" r="1.5" fill="#4a69d7"/><circle cx="362.5" cy="140.1" r="1.3" fill="#9d3aaa"/><circle cx="370.0" cy="142.7" r="1.5" fill="#af329e"/><circle cx="438.9" cy="140.0" r="1.1" fill="#eb136a"/><circle cx="431.9" cy="143.4" r="1.7" fill="#f70c5c"/><circle cx="343.4" cy="142.5" r="1.2" fill="#774dc2"/><circle cx="293.5" cy="142.3" r="1.2" fill="#2b7ee3"/><circle cx="393.7" cy="137.2" r="1.0" fill="#e01a76"/><circle cx="416.7" cy="140.6" r="1.4" fill="#f11063"/><circle cx="375.1" cy="137.9" r="1.4" fill="#6458cb"/><circle cx="392.3" cy="143.2" r="1.1" fill="#9e3aaa"/><circle cx="396.6" cy="145.8" r="1.1" fill="#cf2388"/><circle cx="410.9" cy="141.0" r="1.1" fill="#f20f62"/><circle cx="296.6" cy="141.8" r="1.1" fill="#2f7be1"/><circle cx="357.6" cy="145.3" r="1.5" fill="#953eb0"/><circle cx="393.8" cy="146.7" r="1.2" fill="#ab34a1"/><circle cx="338.4" cy="143.6" r="1.2" fill="#7b4bc0"/><circle cx="420.3" cy="139.7" r="1.5" fill="#f30f61"/><circle cx="381.4" cy="143.8" r="1.1" fill="#da1d7c"/><circle cx="440.8" cy="140.8" r="1.1" fill="#f70c5c"/><circle cx="375.2" cy="145.9" r="1.0" fill="#ad33a0"/><circle cx="295.0" cy="142.3" r="1.4" fill="#2d7de2"/><circle cx="350.4" cy="148.5" r="1.5" fill="#943eb0"/><circle cx="397.4" cy="146.5" r="1.6" fill="#b1319d"/><circle cx="429.8" cy="142.0" r="1.3" fill="#e01975"/><circle cx="313.4" cy="140.4" r="1.3" fill="#4869d7"/><circle cx="446.2" cy="141.3" r="1.0" fill="#f90b5b"/><circle cx="384.9" cy="139.5" r="1.6" fill="#ad33a0"/><circle cx="380.0" cy="147.9" r="1.3" fill="#9e3aa9"/><circle cx="346.0" cy="136.6" r="1.6" fill="#8844b8"/><circle cx="442.0" cy="142.2" r="1.2" fill="#ff0854"/><circle cx="305.9" cy="138.9" r="1.4" fill="#3875dd"/><circle cx="313.9" cy="137.9" r="1.4" fill="#5064d4"/><circle cx="422.7" cy="143.5" r="1.1" fill="#eb1369"/><circle cx="457.4" cy="142.0" r="1.5" fill="#fe0955"/><circle cx="427.0" cy="139.0" r="1.6" fill="#fc0957"/><circle cx="337.5" cy="142.1" r="1.4" fill="#7051c5"/><circle cx="433.0" cy="144.6" r="1.6" fill="#ff0854"/><circle cx="457.5" cy="141.6" r="1.0" fill="#f50d5f"/><circle cx="422.0" cy="144.3" r="1.3" fill="#ef1165"/><circle cx="409.8" cy="145.4" r="1.6" fill="#d71f80"/><circle cx="432.4" cy="143.7" r="1.2" fill="#fe0955"/><circle cx="372.6" cy="140.3" r="1.5" fill="#6b54c8"/><circle cx="390.2" cy="143.7" r="1.5" fill="#af329e"/><circle cx="452.4" cy="139.9" r="1.3" fill="#f30e60"/><circle cx="293.8" cy="141.6" r="1.1" fill="#2d7de2"/><circle cx="300.6" cy="138.9" r="1.7" fill="#2c7de3"/><circle cx="301.2" cy="139.5" r="1.1" fill="#3378df"/><circle cx="390.6" cy="145.8" r="1.1" fill="#b52f9a"/><circle cx="415.9" cy="145.2" r="1.3" fill="#d51f81"/><circle cx="439.5" cy="143.9" r="1.4" fill="#f90b5b"/><circle cx="423.5" cy="145.1" r="1.3" fill="#f60d5e"/><circle cx="300.5" cy="141.1" r="1.5" fill="#2c7de2"/><circle cx="298.2" cy="140.9" r="1.4" fill="#2880e4"/><circle cx="400.9" cy="142.0" r="1.1" fill="#c8268d"/><circle cx="347.1" cy="143.2" r="1.5" fill="#8148be"/><circle cx="392.0" cy="139.3" r="1.6" fill="#ad339f"/><circle cx="422.6" cy="144.4" r="1.1" fill="#d42082"/><circle cx="441.1" cy="142.2" r="1.2" fill="#f21063"/><circle cx="438.0" cy="139.5" r="1.5" fill="#ff0854"/><circle cx="328.2" cy="138.5" r="1.1" fill="#6856c9"/><circle cx="329.1" cy="144.8" r="1.0" fill="#6757ca"/><circle cx="322.2" cy="144.4" r="1.0" fill="#6d53c7"/><circle cx="318.5" cy="137.6" r="1.5" fill="#5b5dcf"/><circle cx="315.2" cy="144.2" r="1.4" fill="#5860d1"/><circle cx="291.4" cy="140.4" r="1.4" fill="#297fe4"/><circle cx="400.8" cy="142.1" r="1.6" fill="#cf2388"/><circle cx="453.1" cy="140.5" r="1.1" fill="#ff0854"/><circle cx="301.0" cy="140.3" r="1.7" fill="#3577df"/><circle cx="354.5" cy="137.9" r="1.2" fill="#8a43b7"/><circle cx="382.5" cy="145.5" r="1.1" fill="#9041b3"/><circle cx="293.3" cy="142.7" r="1.6" fill="#2d7de2"/><circle cx="415.4" cy="142.0" r="1.2" fill="#fd0956"/><circle cx="460.3" cy="140.2" r="1.6" fill="#f50e5f"/><circle cx="386.8" cy="141.2" r="1.1" fill="#d42083"/><circle cx="412.8" cy="138.8" r="1.5" fill="#df1a77"/><circle cx="316.0" cy="135.2" r="1.7" fill="#4969d7"/><circle cx="393.7" cy="146.7" r="1.6" fill="#b0319d"/><circle cx="402.9" cy="140.0" r="1.5" fill="#e7166e"/><circle cx="339.7" cy="144.6" r="1.4" fill="#7b4bc0"/><circle cx="339.7" cy="139.5" r="1.5" fill="#6d53c7"/><circle cx="414.9" cy="142.1" r="1.4" fill="#d61f81"/><circle cx="326.3" cy="142.7" r="1.6" fill="#625acc"/><circle cx="378.3" cy="141.9" r="1.4" fill="#d22184"/><circle cx="315.5" cy="135.3" r="1.3" fill="#5660d1"/><circle cx="327.5" cy="138.8" r="1.6" fill="#6657ca"/><circle cx="412.6" cy="138.6" r="1.2" fill="#ce2389"/><circle cx="434.5" cy="141.0" r="1.3" fill="#f30f61"/><circle cx="333.4" cy="140.7" r="1.4" fill="#8745b9"/><circle cx="362.5" cy="136.4" r="1.4" fill="#a338a6"/><circle cx="309.1" cy="140.0" r="1.5" fill="#3f70db"/><circle cx="351.1" cy="141.2" r="1.6" fill="#943fb1"/><circle cx="458.6" cy="142.8" r="1.5" fill="#f90b5b"/><circle cx="430.7" cy="141.5" r="1.5" fill="#f20f62"/><circle cx="354.6" cy="138.7" r="1.7" fill="#a338a6"/><circle cx="433.6" cy="142.6" r="1.1" fill="#f20f62"/><circle cx="458.4" cy="142.1" r="1.0" fill="#f40e60"/><circle cx="396.4" cy="137.3" r="1.5" fill="#bf2b94"/><circle cx="337.2" cy="144.5" r="1.0" fill="#7350c4"/><circle cx="452.6" cy="143.1" r="1.5" fill="#f30f61"/><circle cx="349.1" cy="142.9" r="1.5" fill="#9140b2"/><circle cx="311.8" cy="137.5" r="1.3" fill="#486ad7"/><circle cx="393.5" cy="145.4" r="1.6" fill="#b52f9a"/><circle cx="364.8" cy="145.9" r="1.1" fill="#c9268d"/><circle cx="396.7" cy="139.0" r="1.2" fill="#d81e7f"/><circle cx="326.0" cy="142.8" r="1.6" fill="#6558cb"/><circle cx="366.9" cy="146.0" r="1.2" fill="#b62f9a"/><circle cx="340.7" cy="145.9" r="1.5" fill="#8a43b7"/><circle cx="364.2" cy="143.9" r="1.1" fill="#973dae"/><circle cx="334.5" cy="138.5" r="1.2" fill="#6856c9"/><circle cx="340.6" cy="138.8" r="1.6" fill="#8147bd"/><circle cx="454.8" cy="142.3" r="1.5" fill="#ff0854"/><circle cx="294.7" cy="143.0" r="1.1" fill="#2880e4"/><circle cx="455.3" cy="141.7" r="1.6" fill="#ff0854"/><circle cx="408.8" cy="141.7" r="1.2" fill="#eb1369"/><circle cx="363.6" cy="137.4" r="1.6" fill="#b82e98"/><circle cx="459.4" cy="142.2" r="1.6" fill="#f90c5b"/><circle cx="367.3" cy="148.8" r="1.6" fill="#ab34a1"/><circle cx="322.9" cy="134.6" r="1.2" fill="#4e65d5"/><circle cx="421.3" cy="141.2" r="1.7" fill="#fb0a59"/><circle cx="331.5" cy="137.8" r="1.0" fill="#794cc1"/><circle cx="321.5" cy="138.5" r="1.7" fill="#615acc"/><circle cx="312.9" cy="146.4" r="1.3" fill="#456bd8"/><circle cx="330.7" cy="147.0" r="1.2" fill="#744fc3"/><circle cx="311.5" cy="145.7" r="1.3" fill="#4a69d7"/><circle cx="434.5" cy="144.2" r="1.4" fill="#f11064"/><circle cx="312.3" cy="141.3" r="1.6" fill="#4a68d6"/><circle cx="384.4" cy="144.5" r="1.2" fill="#da1d7c"/><circle cx="341.6" cy="143.0" r="1.5" fill="#6359cb"/><circle cx="356.7" cy="137.5" r="1.1" fill="#ab34a1"/><circle cx="392.0" cy="141.9" r="1.7" fill="#d81e7e"/><circle cx="385.1" cy="144.8" r="1.4" fill="#e8156d"/><circle cx="397.9" cy="141.6" r="1.2" fill="#e6166f"/><circle cx="412.7" cy="142.8" r="1.1" fill="#f70d5d"/><circle cx="322.9" cy="135.2" r="1.4" fill="#8048be"/><circle cx="341.3" cy="140.6" r="1.3" fill="#784cc1"/><circle cx="360.8" cy="142.4" r="1.6" fill="#8d42b6"/><circle cx="369.4" cy="144.5" r="1.2" fill="#df1a77"/><circle cx="360.8" cy="140.0" r="1.4" fill="#8c42b6"/><circle cx="428.3" cy="141.9" r="1.1" fill="#df1a76"/><circle cx="361.8" cy="139.3" r="1.4" fill="#a935a2"/><circle cx="306.3" cy="141.9" r="1.2" fill="#3d72dc"/><circle cx="420.4" cy="142.9" r="1.5" fill="#ed1267"/><circle cx="360.3" cy="144.9" r="1.6" fill="#ab34a1"/><circle cx="408.2" cy="142.0" r="1.6" fill="#db1c7b"/><circle cx="328.7" cy="139.1" r="1.6" fill="#5b5ecf"/><circle cx="437.4" cy="141.8" r="1.3" fill="#fd0956"/><circle cx="436.6" cy="143.1" r="1.0" fill="#fd0957"/><circle cx="340.5" cy="138.5" r="1.3" fill="#6c53c7"/><circle cx="376.0" cy="145.4" r="1.3" fill="#b82e98"/><circle cx="387.6" cy="144.5" r="1.7" fill="#c32991"/><circle cx="323.3" cy="142.5" r="1.5" fill="#7d4abf"/><circle cx="317.0" cy="147.4" r="1.5" fill="#6657ca"/><circle cx="338.0" cy="140.5" r="1.4" fill="#8d42b5"/><circle cx="318.1" cy="147.4" r="1.2" fill="#5760d1"/><circle cx="328.3" cy="135.1" r="1.2" fill="#595fd0"/><circle cx="372.5" cy="148.4" r="1.6" fill="#953eb0"/><circle cx="445.9" cy="142.4" r="1.2" fill="#ed1268"/><circle cx="434.3" cy="139.6" r="1.1" fill="#f11063"/><circle cx="304.2" cy="139.8" r="1.5" fill="#406fda"/><circle cx="384.2" cy="144.8" r="1.2" fill="#d52082"/><circle cx="369.5" cy="139.4" r="1.4" fill="#8b43b6"/><circle cx="386.2" cy="142.7" r="1.5" fill="#a238a7"/><circle cx="415.2" cy="139.5" r="1.6" fill="#ef1165"/><circle cx="446.0" cy="140.8" r="1.7" fill="#ee1267"/><circle cx="306.5" cy="141.8" r="1.6" fill="#3f70db"/><circle cx="459.9" cy="141.8" r="1.3" fill="#fa0b5a"/><circle cx="391.8" cy="142.3" r="1.6" fill="#ce2489"/><circle cx="325.4" cy="137.6" r="1.5" fill="#5c5dcf"/><circle cx="361.0" cy="139.4" r="1.7" fill="#7e49bf"/><circle cx="453.4" cy="142.6" r="1.7" fill="#fe0955"/><circle cx="394.7" cy="145.6" r="1.1" fill="#b2319c"/><circle cx="300.7" cy="141.2" r="1.2" fill="#2a7ee3"/><circle cx="440.0" cy="139.7" r="1.2" fill="#f60d5d"/><circle cx="384.9" cy="139.9" r="1.1" fill="#9240b2"/><circle cx="393.9" cy="137.8" r="1.0" fill="#9d3bab"/><circle cx="388.8" cy="143.5" r="1.6" fill="#a338a7"/><circle cx="370.3" cy="135.4" r="1.4" fill="#d02287"/><circle cx="385.1" cy="137.0" r="1.1" fill="#d91e7e"/><circle cx="305.5" cy="139.7" r="1.5" fill="#3776de"/><circle cx="456.2" cy="141.2" r="1.6" fill="#fc0a57"/><circle cx="380.1" cy="147.5" r="1.0" fill="#ea146b"/><circle cx="361.6" cy="143.4" r="1.1" fill="#ae329f"/><circle cx="300.3" cy="140.2" r="1.3" fill="#2880e4"/><circle cx="429.2" cy="140.3" r="1.5" fill="#ea146a"/><circle cx="434.1" cy="142.0" r="1.4" fill="#e41771"/><circle cx="304.4" cy="138.4" r="1.4" fill="#3a73dd"/><circle cx="369.2" cy="135.5" r="1.6" fill="#b52f9a"/><circle cx="450.6" cy="143.1" r="1.4" fill="#f60d5e"/><circle cx="457.0" cy="140.4" r="1.5" fill="#fd0956"/><circle cx="318.3" cy="148.7" r="1.0" fill="#4a68d7"/><circle cx="390.5" cy="144.8" r="1.1" fill="#d02286"/><circle cx="355.6" cy="140.9" r="1.4" fill="#794cc1"/><circle cx="357.0" cy="138.4" r="1.7" fill="#a437a6"/><circle cx="454.9" cy="141.7" r="1.1" fill="#f90b5a"/><circle cx="341.0" cy="141.5" r="1.4" fill="#8745b9"/><circle cx="362.0" cy="136.4" r="1.4" fill="#a636a4"/><circle cx="420.8" cy="138.5" r="1.3" fill="#e21873"/><circle cx="350.2" cy="138.4" r="1.6" fill="#9140b2"/><circle cx="310.6" cy="137.0" r="1.5" fill="#486ad7"/><circle cx="339.2" cy="144.9" r="1.4" fill="#5163d3"/><circle cx="457.0" cy="142.1" r="1.1" fill="#f80c5b"/><circle cx="401.2" cy="137.6" r="1.1" fill="#ed1268"/><circle cx="325.7" cy="140.5" r="1.2" fill="#4e65d5"/><circle cx="373.6" cy="147.8" r="1.6" fill="#953eb0"/><circle cx="426.6" cy="141.9" r="1.3" fill="#fc0a57"/><circle cx="450.4" cy="143.1" r="1.2" fill="#ff0854"/><circle cx="314.8" cy="144.5" r="1.5" fill="#3d71db"/><circle cx="364.2" cy="137.9" r="1.7" fill="#cd248a"/><circle cx="327.3" cy="143.6" r="1.1" fill="#5363d3"/><circle cx="329.1" cy="135.8" r="1.0" fill="#5462d2"/><circle cx="426.2" cy="144.1" r="1.7" fill="#f90c5b"/></g></g>
<path d="M297.2,181.4 C297.2,180.9 297.6,180.3 298.0,180.0 C298.4,179.7 298.4,179.9 299.6,179.7 C300.8,179.5 303.2,178.9 305.1,178.6 C307.0,178.3 308.9,178.1 310.7,177.8 C312.5,177.5 314.3,177.2 316.2,176.9 C318.1,176.6 320.1,176.3 321.8,176.1 C323.5,175.8 324.9,175.4 326.3,175.4 C327.7,175.4 328.4,175.8 330.0,176.0 C331.6,176.2 333.8,176.4 335.6,176.9 C337.5,177.4 339.7,178.3 341.1,178.8 C342.5,179.3 343.0,180.0 343.9,179.7 C344.8,179.4 345.8,177.7 346.7,176.9 C347.6,176.1 348.6,175.3 349.5,174.8 C350.4,174.3 351.4,174.1 352.3,174.1 C353.2,174.1 354.3,174.4 355.0,174.7 C355.7,175.0 355.9,175.2 356.7,175.8 C357.4,176.5 358.4,178.5 359.5,178.6 C360.6,178.7 361.8,177.0 363.4,176.6 C365.0,176.2 367.5,176.1 368.9,176.1 C370.3,176.1 370.9,176.5 371.6,176.3 C372.3,176.1 372.6,175.3 373.0,175.0 C373.4,174.7 372.9,174.5 374.0,174.3 C375.1,174.1 378.2,174.0 379.9,173.9 C381.6,173.8 382.5,173.8 384.1,173.9 C385.7,174.0 388.0,173.8 389.6,174.3 C391.2,174.8 392.3,176.2 393.8,177.0 C395.3,177.8 397.0,178.6 398.7,179.1 C400.4,179.6 402.7,179.7 404.2,179.8 C405.7,179.9 406.7,179.6 407.5,179.8 C408.3,180.1 408.9,180.8 408.9,181.3 C408.9,181.8 408.3,182.5 407.5,182.8 C406.7,183.1 405.7,182.9 404.2,183.0 C402.7,183.1 400.4,183.0 398.7,183.6 C397.0,184.2 395.3,185.8 393.8,186.8 C392.3,187.8 391.2,188.9 389.6,189.6 C388.0,190.3 385.7,191.1 384.1,191.2 C382.5,191.3 381.6,190.8 379.9,190.3 C378.2,189.8 375.1,188.9 374.0,188.4 C372.9,187.9 373.4,187.9 373.0,187.5 C372.6,187.1 372.3,186.2 371.6,186.1 C370.9,185.9 370.3,186.6 368.9,186.6 C367.5,186.6 365.0,186.2 363.4,185.8 C361.8,185.4 360.6,183.8 359.5,184.1 C358.4,184.4 357.4,186.7 356.7,187.4 C355.9,188.1 355.7,188.2 355.0,188.5 C354.3,188.8 353.2,189.4 352.3,189.4 C351.4,189.4 350.4,188.9 349.5,188.3 C348.6,187.7 347.6,186.7 346.7,185.8 C345.8,184.9 344.8,183.3 343.9,183.0 C343.0,182.7 342.5,183.8 341.1,184.1 C339.7,184.4 337.5,184.5 335.6,185.0 C333.8,185.5 331.6,186.5 330.0,186.9 C328.4,187.3 327.7,187.4 326.3,187.3 C324.9,187.2 323.5,186.7 321.8,186.4 C320.1,186.1 318.1,185.6 316.2,185.3 C314.3,185.0 312.5,184.9 310.7,184.7 C308.9,184.5 307.0,184.2 305.1,183.9 C303.2,183.6 300.8,183.2 299.6,183.0 C298.4,182.8 298.4,183.1 298.0,182.8 C297.6,182.5 297.2,181.9 297.2,181.4Z" fill="url(#gr3)"/>
<g clip-path="url(#cr3)"><g opacity="0.75"><circle cx="323.8" cy="177.5" r="1.3" fill="#317ae0"/><circle cx="324.9" cy="175.8" r="1.7" fill="#2c7de2"/><circle cx="302.8" cy="180.6" r="1.5" fill="#297fe3"/><circle cx="331.6" cy="183.4" r="1.3" fill="#2c7de2"/><circle cx="319.0" cy="184.7" r="1.5" fill="#2880e4"/><circle cx="402.4" cy="179.9" r="1.4" fill="#f50e5f"/><circle cx="319.7" cy="181.6" r="1.6" fill="#2880e4"/><circle cx="359.2" cy="184.0" r="1.1" fill="#6955c8"/><circle cx="320.7" cy="181.8" r="1.2" fill="#2c7de2"/><circle cx="311.2" cy="179.1" r="1.7" fill="#2880e4"/><circle cx="386.5" cy="185.5" r="1.3" fill="#ba2d97"/><circle cx="346.8" cy="184.3" r="1.3" fill="#605bcd"/><circle cx="307.7" cy="178.8" r="1.7" fill="#2e7ce2"/><circle cx="405.1" cy="181.8" r="1.6" fill="#ff0854"/><circle cx="377.9" cy="178.3" r="1.5" fill="#cc258b"/><circle cx="388.3" cy="188.7" r="1.7" fill="#e31872"/><circle cx="397.0" cy="179.9" r="1.6" fill="#ff0854"/><circle cx="320.9" cy="181.0" r="1.2" fill="#307be1"/><circle cx="358.0" cy="185.5" r="1.1" fill="#8247bd"/><circle cx="298.3" cy="181.5" r="1.4" fill="#2a7ee3"/><circle cx="368.8" cy="181.0" r="1.3" fill="#7151c5"/><circle cx="360.1" cy="183.0" r="1.3" fill="#7a4cc1"/><circle cx="324.9" cy="177.0" r="1.0" fill="#2880e4"/><circle cx="373.8" cy="187.6" r="1.6" fill="#9140b2"/><circle cx="381.9" cy="184.2" r="1.6" fill="#cc258b"/><circle cx="298.5" cy="181.1" r="1.3" fill="#2d7de2"/><circle cx="324.8" cy="178.0" r="1.6" fill="#3775de"/><circle cx="330.7" cy="182.3" r="1.3" fill="#3c72dc"/><circle cx="341.2" cy="183.5" r="1.2" fill="#3b73dc"/><circle cx="398.3" cy="182.7" r="1.3" fill="#e11974"/><circle cx="371.3" cy="181.4" r="1.7" fill="#8247bc"/><circle cx="376.8" cy="186.9" r="1.3" fill="#605acc"/><circle cx="400.4" cy="181.1" r="1.3" fill="#fe0955"/><circle cx="317.5" cy="181.9" r="1.5" fill="#2f7be1"/><circle cx="356.6" cy="182.9" r="1.6" fill="#774dc2"/><circle cx="307.6" cy="178.8" r="1.0" fill="#2880e4"/><circle cx="325.9" cy="175.8" r="1.6" fill="#2c7de2"/><circle cx="406.6" cy="182.4" r="1.4" fill="#ec1368"/><circle cx="385.6" cy="178.5" r="1.2" fill="#5b5ecf"/><circle cx="341.6" cy="181.5" r="1.3" fill="#5e5cce"/><circle cx="329.8" cy="184.3" r="1.0" fill="#3974dd"/><circle cx="309.8" cy="179.6" r="1.3" fill="#2880e4"/><circle cx="351.8" cy="174.8" r="1.1" fill="#774dc2"/><circle cx="334.8" cy="180.3" r="1.2" fill="#3e71db"/><circle cx="327.8" cy="178.6" r="1.6" fill="#3b73dd"/><circle cx="360.1" cy="181.1" r="1.2" fill="#7f48be"/><circle cx="404.7" cy="181.3" r="1.6" fill="#f90b5a"/><circle cx="357.5" cy="182.6" r="1.2" fill="#6d53c7"/><circle cx="344.7" cy="179.1" r="1.5" fill="#5263d3"/><circle cx="386.8" cy="181.6" r="1.2" fill="#ff0854"/><circle cx="384.7" cy="183.7" r="1.0" fill="#ff0854"/><circle cx="352.4" cy="187.8" r="1.3" fill="#6a55c8"/><circle cx="395.8" cy="178.3" r="1.7" fill="#f11063"/><circle cx="305.6" cy="181.2" r="1.0" fill="#2a7fe3"/><circle cx="300.4" cy="180.2" r="1.5" fill="#2e7ce1"/><circle cx="361.9" cy="180.2" r="1.1" fill="#8446bc"/><circle cx="337.7" cy="178.0" r="1.2" fill="#3b73dc"/><circle cx="396.3" cy="184.1" r="1.7" fill="#ff0854"/><circle cx="311.3" cy="178.5" r="1.4" fill="#2b7ee3"/><circle cx="311.6" cy="178.6" r="1.1" fill="#307ae1"/><circle cx="305.2" cy="178.8" r="1.5" fill="#307ae1"/><circle cx="311.2" cy="183.1" r="1.3" fill="#2a7fe3"/><circle cx="362.3" cy="182.0" r="1.2" fill="#a039a8"/><circle cx="306.5" cy="183.7" r="1.6" fill="#307ae1"/><circle cx="313.9" cy="180.8" r="1.4" fill="#2a7fe3"/><circle cx="316.4" cy="183.1" r="1.4" fill="#3875de"/><circle cx="318.4" cy="184.5" r="1.4" fill="#2880e4"/><circle cx="388.2" cy="186.4" r="1.5" fill="#e51771"/><circle cx="302.9" cy="180.7" r="1.5" fill="#2a7fe3"/><circle cx="346.9" cy="185.6" r="1.4" fill="#5b5ecf"/><circle cx="402.1" cy="180.1" r="1.3" fill="#f01064"/><circle cx="387.4" cy="184.9" r="1.5" fill="#b0319d"/><circle cx="308.5" cy="180.4" r="1.6" fill="#307ae1"/><circle cx="364.2" cy="182.7" r="1.4" fill="#6856c9"/><circle cx="377.1" cy="176.2" r="1.3" fill="#9b3bab"/><circle cx="302.8" cy="179.7" r="1.1" fill="#2a7fe3"/><circle cx="350.8" cy="183.0" r="1.2" fill="#6e52c6"/><circle cx="381.2" cy="183.9" r="1.2" fill="#5c5dcf"/><circle cx="302.3" cy="179.5" r="1.3" fill="#2b7ee3"/><circle cx="308.9" cy="184.3" r="1.5" fill="#2880e4"/><circle cx="324.5" cy="182.5" r="1.2" fill="#3676de"/><circle cx="324.7" cy="178.5" r="1.5" fill="#3279e0"/><circle cx="335.3" cy="177.6" r="1.6" fill="#3b73dd"/><circle cx="316.0" cy="180.2" r="1.0" fill="#3378e0"/><circle cx="394.5" cy="179.8" r="1.2" fill="#ff0854"/><circle cx="307.4" cy="182.8" r="1.5" fill="#2b7ee3"/><circle cx="353.5" cy="177.3" r="1.5" fill="#7e49bf"/><circle cx="304.6" cy="181.6" r="1.4" fill="#2e7ce2"/><circle cx="300.0" cy="182.0" r="1.4" fill="#2880e4"/><circle cx="381.2" cy="177.1" r="1.1" fill="#9a3cad"/><circle cx="356.2" cy="186.4" r="1.6" fill="#7250c4"/><circle cx="309.6" cy="180.8" r="1.4" fill="#3378e0"/><circle cx="408.0" cy="180.7" r="1.4" fill="#f70c5c"/><circle cx="380.4" cy="179.1" r="1.3" fill="#a736a4"/><circle cx="405.8" cy="181.9" r="1.2" fill="#f70d5d"/><circle cx="356.0" cy="185.2" r="1.5" fill="#6657ca"/><circle cx="406.3" cy="182.5" r="1.5" fill="#fd0956"/><circle cx="309.1" cy="184.3" r="1.2" fill="#2880e4"/><circle cx="354.5" cy="177.4" r="1.3" fill="#6d53c7"/><circle cx="370.5" cy="178.0" r="1.2" fill="#983dae"/><circle cx="378.4" cy="174.6" r="1.6" fill="#ee1166"/><circle cx="333.1" cy="184.8" r="1.3" fill="#3c72dc"/><circle cx="365.8" cy="176.4" r="1.0" fill="#7a4cc1"/><circle cx="301.2" cy="182.0" r="1.1" fill="#2880e4"/><circle cx="384.5" cy="182.9" r="1.5" fill="#ff0854"/><circle cx="402.8" cy="180.2" r="1.6" fill="#f60d5e"/><circle cx="303.7" cy="179.1" r="1.1" fill="#2880e4"/><circle cx="399.4" cy="179.5" r="1.3" fill="#ff0854"/><circle cx="398.2" cy="181.9" r="1.3" fill="#dd1b79"/><circle cx="362.1" cy="183.8" r="1.7" fill="#953eb0"/><circle cx="397.5" cy="183.2" r="1.4" fill="#e8156d"/><circle cx="349.4" cy="186.8" r="1.1" fill="#7151c5"/><circle cx="359.3" cy="182.6" r="1.2" fill="#8147bd"/><circle cx="362.7" cy="185.4" r="1.4" fill="#943fb1"/><circle cx="374.1" cy="180.8" r="1.2" fill="#6f52c6"/><circle cx="358.1" cy="180.0" r="1.2" fill="#8844b9"/><circle cx="401.6" cy="182.1" r="1.1" fill="#ff0854"/><circle cx="402.9" cy="182.3" r="1.3" fill="#fc0a58"/><circle cx="399.0" cy="180.1" r="1.4" fill="#f90b5a"/><circle cx="370.0" cy="185.6" r="1.6" fill="#ce2389"/><circle cx="344.0" cy="181.8" r="1.5" fill="#5d5dce"/><circle cx="346.5" cy="180.8" r="1.6" fill="#5362d3"/><circle cx="398.8" cy="180.6" r="1.4" fill="#ff0854"/><circle cx="300.2" cy="180.1" r="1.3" fill="#2c7de3"/><circle cx="368.7" cy="182.4" r="1.0" fill="#953eb0"/><circle cx="339.8" cy="184.1" r="1.5" fill="#5362d3"/><circle cx="385.3" cy="182.0" r="1.0" fill="#ff0854"/><circle cx="299.5" cy="179.8" r="1.3" fill="#2880e4"/><circle cx="382.8" cy="179.7" r="1.6" fill="#d32184"/><circle cx="347.5" cy="177.2" r="1.4" fill="#5c5dcf"/><circle cx="335.7" cy="183.5" r="1.7" fill="#3677df"/><circle cx="353.5" cy="177.6" r="1.1" fill="#6d53c7"/><circle cx="303.5" cy="181.9" r="1.6" fill="#2e7ce2"/><circle cx="298.1" cy="180.5" r="1.1" fill="#2d7de2"/><circle cx="319.6" cy="178.8" r="1.0" fill="#2880e4"/><circle cx="334.9" cy="182.1" r="1.0" fill="#2880e4"/><circle cx="331.3" cy="180.1" r="1.1" fill="#2880e4"/><circle cx="315.8" cy="182.7" r="1.3" fill="#297fe4"/><circle cx="361.6" cy="184.5" r="1.6" fill="#8048be"/><circle cx="349.8" cy="185.8" r="1.3" fill="#6e53c6"/><circle cx="349.2" cy="177.1" r="1.5" fill="#5c5dcf"/><circle cx="322.4" cy="180.0" r="1.4" fill="#3875de"/><circle cx="358.6" cy="183.1" r="1.2" fill="#8f41b4"/><circle cx="395.0" cy="182.3" r="1.4" fill="#d32184"/><circle cx="303.3" cy="181.4" r="1.5" fill="#2b7ee3"/><circle cx="350.1" cy="185.2" r="1.0" fill="#6259cc"/><circle cx="381.1" cy="189.1" r="1.4" fill="#d32183"/><circle cx="314.3" cy="184.1" r="1.5" fill="#2880e4"/><circle cx="406.6" cy="180.9" r="1.5" fill="#f60d5e"/><circle cx="391.5" cy="186.6" r="1.3" fill="#ff0854"/><circle cx="314.2" cy="181.3" r="1.2" fill="#2c7de2"/><circle cx="401.3" cy="180.6" r="1.0" fill="#ff0854"/><circle cx="401.0" cy="182.9" r="1.5" fill="#f70d5d"/><circle cx="376.7" cy="174.9" r="1.5" fill="#f60d5e"/><circle cx="344.5" cy="180.3" r="1.6" fill="#5d5dce"/><circle cx="376.6" cy="184.4" r="1.5" fill="#a835a3"/><circle cx="400.1" cy="179.6" r="1.4" fill="#e41771"/><circle cx="398.7" cy="179.4" r="1.2" fill="#ff0854"/><circle cx="329.1" cy="179.7" r="1.2" fill="#3776de"/><circle cx="318.4" cy="180.4" r="1.2" fill="#307ae1"/><circle cx="365.1" cy="179.4" r="1.4" fill="#8645ba"/><circle cx="390.9" cy="177.9" r="1.3" fill="#8446bb"/><circle cx="331.9" cy="184.6" r="1.7" fill="#3577df"/><circle cx="405.6" cy="182.0" r="1.3" fill="#ff0854"/><circle cx="330.5" cy="178.4" r="1.6" fill="#3a74dd"/><circle cx="394.0" cy="180.4" r="1.5" fill="#f80c5b"/><circle cx="366.6" cy="185.4" r="1.2" fill="#963eaf"/><circle cx="363.7" cy="179.1" r="1.1" fill="#a736a4"/><circle cx="333.9" cy="185.5" r="1.3" fill="#2f7be1"/><circle cx="326.9" cy="176.9" r="1.5" fill="#3577df"/><circle cx="403.8" cy="180.5" r="1.3" fill="#f80c5c"/><circle cx="334.3" cy="180.4" r="1.4" fill="#406fda"/><circle cx="340.7" cy="183.9" r="1.3" fill="#5a5ed0"/><circle cx="372.5" cy="179.3" r="1.6" fill="#e6166f"/><circle cx="315.4" cy="179.1" r="1.3" fill="#2c7de2"/><circle cx="339.8" cy="183.4" r="1.6" fill="#426ed9"/><circle cx="360.3" cy="181.4" r="1.7" fill="#ab34a1"/><circle cx="310.7" cy="178.7" r="1.3" fill="#2d7de2"/><circle cx="362.6" cy="183.3" r="1.4" fill="#764ec2"/><circle cx="337.8" cy="180.9" r="1.0" fill="#3577df"/><circle cx="361.1" cy="181.8" r="1.5" fill="#8d42b5"/><circle cx="336.6" cy="181.8" r="1.4" fill="#3477df"/><circle cx="388.2" cy="174.4" r="1.7" fill="#ff0854"/><circle cx="392.3" cy="182.2" r="1.2" fill="#d61f80"/><circle cx="308.0" cy="183.9" r="1.5" fill="#2880e4"/><circle cx="327.7" cy="180.3" r="1.6" fill="#307ae1"/><circle cx="320.3" cy="178.0" r="1.1" fill="#2e7ce2"/><circle cx="375.8" cy="178.2" r="1.3" fill="#7d4abf"/><circle cx="402.0" cy="181.9" r="1.3" fill="#f70c5d"/><circle cx="309.1" cy="179.1" r="1.1" fill="#2880e4"/><circle cx="399.7" cy="179.7" r="1.3" fill="#f60d5e"/><circle cx="380.1" cy="183.8" r="1.2" fill="#cc258b"/><circle cx="359.9" cy="179.6" r="1.6" fill="#744fc3"/><circle cx="369.5" cy="180.1" r="1.4" fill="#963eaf"/><circle cx="342.3" cy="182.5" r="1.3" fill="#466bd8"/><circle cx="331.8" cy="179.1" r="1.7" fill="#2c7de2"/><circle cx="317.3" cy="179.0" r="1.4" fill="#2880e4"/><circle cx="346.0" cy="182.7" r="1.3" fill="#4c67d5"/><circle cx="389.2" cy="185.2" r="1.1" fill="#ff0854"/><circle cx="333.3" cy="178.2" r="1.4" fill="#3c72dc"/><circle cx="358.3" cy="184.6" r="1.5" fill="#6a55c8"/><circle cx="386.1" cy="187.9" r="1.7" fill="#933fb1"/><circle cx="303.6" cy="182.2" r="1.3" fill="#2980e4"/><circle cx="311.3" cy="181.7" r="1.1" fill="#2c7de2"/><circle cx="322.0" cy="181.5" r="1.6" fill="#2f7be1"/><circle cx="304.7" cy="180.0" r="1.5" fill="#307ae1"/><circle cx="326.1" cy="186.6" r="1.7" fill="#317ae0"/></g></g>
<path d="M299.4,231.6 C299.4,231.2 299.8,230.5 300.4,230.3 C301.0,230.1 301.4,230.4 303.0,230.2 C304.6,230.0 307.6,229.5 309.9,229.1 C312.2,228.7 314.6,228.1 316.9,227.7 C319.2,227.3 321.5,227.0 323.8,226.7 C326.1,226.4 328.6,226.1 330.8,226.0 C333.0,225.9 335.4,225.8 337.0,226.3 C338.6,226.8 339.1,228.2 340.5,228.8 C341.9,229.4 344.2,229.9 345.6,229.6 C347.0,229.3 347.9,228.0 349.0,227.1 C350.1,226.2 351.1,224.6 352.5,224.0 C353.9,223.4 355.5,223.7 357.4,223.6 C359.2,223.5 362.4,223.0 363.6,223.6 C364.8,224.2 364.2,226.3 364.7,227.1 C365.2,227.9 365.3,228.6 366.4,228.5 C367.5,228.4 369.3,227.1 371.3,226.4 C373.3,225.7 376.4,224.8 378.2,224.4 C380.0,224.0 380.8,224.1 382.0,224.2 C383.2,224.3 384.1,224.4 385.6,225.0 C387.1,225.6 389.4,226.7 391.1,227.5 C392.8,228.3 393.7,229.3 395.6,229.7 C397.5,230.1 400.1,229.8 402.3,229.8 C404.5,229.9 407.4,230.1 409.0,230.0 C410.6,229.9 410.9,229.5 411.7,229.5 C412.4,229.5 412.9,230.0 413.5,230.0 C414.1,230.0 415.0,229.4 415.6,229.6 C416.2,229.8 417.3,230.8 417.3,231.4 C417.3,232.0 416.2,233.1 415.6,233.3 C415.0,233.6 414.1,232.9 413.5,232.9 C412.9,232.9 412.4,233.2 411.7,233.2 C410.9,233.2 410.6,233.0 409.0,233.0 C407.4,233.0 404.5,233.2 402.3,233.2 C400.1,233.2 397.5,232.7 395.6,233.1 C393.7,233.5 392.8,234.8 391.1,235.6 C389.4,236.4 387.1,237.5 385.6,238.1 C384.1,238.7 383.2,238.9 382.0,239.0 C380.8,239.1 380.0,239.2 378.2,238.8 C376.4,238.4 373.3,237.3 371.3,236.5 C369.3,235.7 367.5,234.0 366.4,234.1 C365.3,234.2 365.2,235.8 364.7,236.9 C364.2,238.0 364.8,240.2 363.6,240.7 C362.4,241.2 359.2,240.2 357.4,240.0 C355.5,239.8 353.9,240.2 352.5,239.6 C351.1,239.0 350.1,237.3 349.0,236.2 C347.9,235.0 347.0,233.1 345.6,232.7 C344.2,232.3 341.9,233.0 340.5,233.6 C339.1,234.2 338.6,235.9 337.0,236.4 C335.4,236.9 333.0,236.5 330.8,236.4 C328.6,236.3 326.1,236.3 323.8,236.1 C321.5,235.9 319.2,235.8 316.9,235.4 C314.6,235.1 312.2,234.4 309.9,234.0 C307.6,233.6 304.6,233.2 303.0,233.0 C301.4,232.8 301.0,233.1 300.4,232.9 C299.8,232.7 299.4,232.0 299.4,231.6Z" fill="url(#gr4)"/>
<g clip-path="url(#cr4)"><g opacity="0.75"><circle cx="373.6" cy="233.2" r="1.3" fill="#9c3bab"/><circle cx="355.1" cy="236.0" r="1.5" fill="#5c5dce"/><circle cx="346.3" cy="230.4" r="1.1" fill="#5561d2"/><circle cx="337.5" cy="230.7" r="1.2" fill="#3974dd"/><circle cx="412.4" cy="233.0" r="1.4" fill="#ef1165"/><circle cx="358.2" cy="233.1" r="1.2" fill="#6b55c8"/><circle cx="400.9" cy="233.0" r="1.2" fill="#f20f62"/><circle cx="358.2" cy="228.9" r="1.2" fill="#734fc4"/><circle cx="391.6" cy="230.0" r="1.5" fill="#ff0854"/><circle cx="399.0" cy="230.8" r="1.6" fill="#f80c5b"/><circle cx="373.2" cy="228.3" r="1.7" fill="#774dc2"/><circle cx="344.1" cy="232.6" r="1.5" fill="#5263d3"/><circle cx="320.4" cy="228.3" r="1.2" fill="#297fe4"/><circle cx="353.6" cy="227.7" r="1.4" fill="#764ec2"/><circle cx="350.2" cy="237.3" r="1.7" fill="#6657ca"/><circle cx="363.6" cy="233.9" r="1.3" fill="#7d4abf"/><circle cx="307.8" cy="230.7" r="1.3" fill="#2c7de2"/><circle cx="416.3" cy="231.1" r="1.3" fill="#f90b5a"/><circle cx="348.4" cy="235.0" r="1.3" fill="#5e5cce"/><circle cx="310.5" cy="233.4" r="1.1" fill="#297fe3"/><circle cx="366.3" cy="231.4" r="1.2" fill="#9e3aaa"/><circle cx="335.0" cy="232.0" r="1.5" fill="#3577df"/><circle cx="352.9" cy="228.9" r="1.7" fill="#6b54c8"/><circle cx="398.3" cy="232.1" r="1.1" fill="#f30f61"/><circle cx="359.2" cy="227.8" r="1.1" fill="#6b54c8"/><circle cx="321.8" cy="231.1" r="1.4" fill="#3379e0"/><circle cx="340.5" cy="232.8" r="1.2" fill="#3974dd"/><circle cx="378.3" cy="234.8" r="1.7" fill="#7e49bf"/><circle cx="349.7" cy="234.5" r="1.4" fill="#6657ca"/><circle cx="415.5" cy="229.8" r="1.3" fill="#f60d5d"/><circle cx="327.4" cy="231.3" r="1.5" fill="#2e7ce2"/><circle cx="324.7" cy="227.8" r="1.3" fill="#2880e4"/><circle cx="377.2" cy="233.2" r="1.2" fill="#cc248b"/><circle cx="329.8" cy="230.2" r="1.3" fill="#2c7de3"/><circle cx="337.0" cy="235.3" r="1.3" fill="#3d71dc"/><circle cx="327.4" cy="227.4" r="1.2" fill="#2880e4"/><circle cx="395.8" cy="231.9" r="1.6" fill="#d02287"/><circle cx="342.2" cy="230.5" r="1.2" fill="#4a68d6"/><circle cx="390.8" cy="227.9" r="1.1" fill="#e21874"/><circle cx="383.2" cy="233.8" r="1.5" fill="#cd248a"/><circle cx="390.9" cy="233.2" r="1.5" fill="#f01164"/><circle cx="349.7" cy="231.8" r="1.5" fill="#6259cc"/><circle cx="382.6" cy="228.3" r="1.2" fill="#ea146b"/><circle cx="337.1" cy="230.8" r="1.1" fill="#3e71db"/><circle cx="391.8" cy="228.6" r="1.5" fill="#be2b94"/><circle cx="397.3" cy="232.9" r="1.0" fill="#fa0b59"/><circle cx="376.0" cy="226.0" r="1.4" fill="#794cc1"/><circle cx="299.7" cy="231.6" r="1.4" fill="#2e7ce2"/><circle cx="373.1" cy="228.2" r="1.5" fill="#eb136a"/><circle cx="383.0" cy="238.4" r="1.4" fill="#c6278f"/><circle cx="332.8" cy="235.9" r="1.5" fill="#317ae1"/><circle cx="390.9" cy="228.1" r="1.1" fill="#ff0854"/><circle cx="395.5" cy="230.7" r="1.5" fill="#fc0a57"/><circle cx="346.9" cy="233.8" r="1.7" fill="#5d5dce"/><circle cx="329.0" cy="232.0" r="1.4" fill="#3875de"/><circle cx="314.0" cy="234.4" r="1.1" fill="#2c7de3"/><circle cx="335.8" cy="227.7" r="1.2" fill="#3577df"/><circle cx="405.7" cy="231.5" r="1.4" fill="#f01164"/><circle cx="366.4" cy="231.2" r="1.5" fill="#ab34a1"/><circle cx="416.3" cy="230.7" r="1.2" fill="#fe0956"/><circle cx="351.6" cy="227.5" r="1.4" fill="#5362d2"/><circle cx="325.4" cy="234.0" r="1.1" fill="#2f7be1"/><circle cx="315.3" cy="234.4" r="1.3" fill="#3775de"/><circle cx="306.4" cy="230.7" r="1.6" fill="#2f7be1"/><circle cx="334.4" cy="229.8" r="1.5" fill="#3d71db"/><circle cx="345.1" cy="232.5" r="1.1" fill="#4e65d5"/><circle cx="364.9" cy="228.9" r="1.5" fill="#8e41b4"/><circle cx="337.4" cy="231.0" r="1.1" fill="#2c7de2"/><circle cx="380.4" cy="231.5" r="1.0" fill="#a736a3"/><circle cx="380.3" cy="233.4" r="1.4" fill="#d22185"/><circle cx="351.1" cy="226.6" r="1.2" fill="#5b5ecf"/><circle cx="356.1" cy="232.0" r="1.4" fill="#615acc"/><circle cx="372.1" cy="227.5" r="1.4" fill="#615acc"/><circle cx="403.2" cy="231.0" r="1.2" fill="#ea146a"/><circle cx="326.0" cy="232.9" r="1.0" fill="#2880e4"/><circle cx="330.9" cy="227.6" r="1.1" fill="#317ae1"/><circle cx="383.8" cy="237.7" r="1.2" fill="#9140b3"/><circle cx="386.1" cy="234.5" r="1.5" fill="#ff0854"/><circle cx="307.5" cy="230.9" r="1.7" fill="#2880e4"/><circle cx="317.9" cy="228.3" r="1.1" fill="#3974dd"/><circle cx="394.1" cy="233.9" r="1.4" fill="#d81e7e"/><circle cx="363.3" cy="228.0" r="1.3" fill="#a636a5"/><circle cx="361.5" cy="233.0" r="1.4" fill="#7b4bc0"/><circle cx="408.8" cy="232.0" r="1.6" fill="#fc0a57"/><circle cx="401.3" cy="232.5" r="1.1" fill="#f60d5e"/><circle cx="330.3" cy="236.2" r="1.3" fill="#3378e0"/><circle cx="327.5" cy="236.2" r="1.4" fill="#3279e0"/><circle cx="407.1" cy="230.7" r="1.0" fill="#f30f61"/><circle cx="303.6" cy="233.0" r="1.5" fill="#2a7ee3"/><circle cx="368.0" cy="230.2" r="1.6" fill="#a238a7"/><circle cx="399.3" cy="230.6" r="1.2" fill="#eb136a"/><circle cx="400.0" cy="232.7" r="1.3" fill="#ff0854"/><circle cx="360.3" cy="227.9" r="1.6" fill="#7b4bc0"/><circle cx="409.1" cy="231.6" r="1.6" fill="#fc0a57"/><circle cx="360.7" cy="230.8" r="1.4" fill="#963eaf"/><circle cx="394.5" cy="233.1" r="1.3" fill="#e51670"/><circle cx="339.4" cy="228.9" r="1.2" fill="#3875de"/><circle cx="408.7" cy="230.6" r="1.3" fill="#f60d5e"/><circle cx="319.2" cy="234.5" r="1.7" fill="#2f7be1"/><circle cx="335.1" cy="227.7" r="1.5" fill="#3b73dd"/><circle cx="369.5" cy="228.6" r="1.4" fill="#ca258c"/><circle cx="399.3" cy="230.0" r="1.5" fill="#f40e60"/><circle cx="343.2" cy="229.6" r="1.1" fill="#5064d4"/><circle cx="325.4" cy="230.8" r="1.2" fill="#307ae1"/><circle cx="401.4" cy="232.8" r="1.2" fill="#f80c5c"/><circle cx="357.6" cy="234.5" r="1.4" fill="#774dc2"/><circle cx="331.1" cy="233.2" r="1.5" fill="#3279e0"/><circle cx="374.2" cy="225.7" r="1.4" fill="#a437a6"/><circle cx="413.1" cy="230.1" r="1.2" fill="#fd0956"/><circle cx="388.9" cy="234.7" r="1.3" fill="#c02a92"/><circle cx="370.4" cy="229.1" r="1.7" fill="#973daf"/><circle cx="315.5" cy="230.3" r="1.3" fill="#2880e4"/><circle cx="317.8" cy="231.4" r="1.1" fill="#2880e4"/><circle cx="352.9" cy="230.7" r="1.0" fill="#6757c9"/><circle cx="310.8" cy="230.7" r="1.6" fill="#2a7fe3"/><circle cx="397.6" cy="232.7" r="1.6" fill="#f40e60"/><circle cx="413.3" cy="230.0" r="1.1" fill="#fb0a58"/><circle cx="396.0" cy="232.8" r="1.6" fill="#f30f61"/><circle cx="395.7" cy="231.1" r="1.2" fill="#eb136a"/><circle cx="365.5" cy="232.9" r="1.2" fill="#a238a7"/><circle cx="380.1" cy="226.7" r="1.1" fill="#c7278e"/><circle cx="337.7" cy="235.2" r="1.1" fill="#2e7ce2"/><circle cx="310.1" cy="233.6" r="1.4" fill="#3379e0"/><circle cx="336.4" cy="229.5" r="1.5" fill="#3477df"/><circle cx="304.0" cy="231.4" r="1.4" fill="#2c7de2"/><circle cx="340.2" cy="229.4" r="1.1" fill="#3f70db"/><circle cx="368.9" cy="228.9" r="1.7" fill="#f01164"/><circle cx="372.5" cy="230.2" r="1.4" fill="#9e3aa9"/><circle cx="328.9" cy="232.1" r="1.6" fill="#2880e4"/><circle cx="306.4" cy="229.9" r="1.4" fill="#297fe4"/><circle cx="304.8" cy="231.5" r="1.0" fill="#2c7de2"/><circle cx="381.4" cy="230.2" r="1.6" fill="#eb136a"/><circle cx="321.5" cy="232.9" r="1.2" fill="#307ae1"/><circle cx="407.5" cy="230.7" r="1.5" fill="#f90b5a"/><circle cx="378.4" cy="229.3" r="1.5" fill="#b92d98"/><circle cx="413.2" cy="230.5" r="1.7" fill="#fa0b59"/><circle cx="369.0" cy="234.1" r="1.1" fill="#774ec2"/><circle cx="317.4" cy="231.4" r="1.7" fill="#2880e4"/><circle cx="302.1" cy="231.4" r="1.1" fill="#2b7ee3"/><circle cx="389.4" cy="230.3" r="1.1" fill="#ff0854"/><circle cx="397.5" cy="233.1" r="1.0" fill="#f20f62"/><circle cx="406.0" cy="230.0" r="1.5" fill="#f90b5a"/><circle cx="380.1" cy="238.7" r="1.4" fill="#5e5cce"/><circle cx="326.7" cy="236.1" r="1.1" fill="#2a7ee3"/><circle cx="368.9" cy="228.7" r="1.2" fill="#5d5cce"/><circle cx="326.2" cy="228.9" r="1.3" fill="#2e7ce2"/><circle cx="315.4" cy="228.7" r="1.5" fill="#2880e4"/><circle cx="388.8" cy="236.3" r="1.3" fill="#ca268c"/><circle cx="346.6" cy="233.5" r="1.5" fill="#5263d3"/><circle cx="392.1" cy="231.4" r="1.3" fill="#cb258b"/><circle cx="351.3" cy="238.4" r="1.4" fill="#5462d2"/><circle cx="350.6" cy="228.1" r="1.1" fill="#5b5ecf"/><circle cx="330.8" cy="236.2" r="1.1" fill="#2e7ce2"/><circle cx="405.2" cy="230.2" r="1.1" fill="#fc0a58"/><circle cx="363.3" cy="234.3" r="1.0" fill="#ab34a1"/><circle cx="353.0" cy="234.6" r="1.1" fill="#6a55c8"/><circle cx="359.5" cy="239.0" r="1.5" fill="#8546bb"/><circle cx="385.1" cy="229.0" r="1.3" fill="#d52082"/><circle cx="302.2" cy="232.6" r="1.4" fill="#297fe4"/><circle cx="416.4" cy="232.1" r="1.3" fill="#ff0854"/><circle cx="396.4" cy="232.8" r="1.4" fill="#f20f62"/><circle cx="379.1" cy="238.7" r="1.1" fill="#ff0854"/><circle cx="390.3" cy="232.9" r="1.4" fill="#c02a93"/><circle cx="319.1" cy="232.3" r="1.6" fill="#317ae0"/><circle cx="395.0" cy="232.0" r="1.0" fill="#c9268d"/><circle cx="310.9" cy="232.8" r="1.5" fill="#2880e4"/><circle cx="318.0" cy="227.6" r="1.2" fill="#3379e0"/><circle cx="337.7" cy="233.4" r="1.5" fill="#3f70db"/><circle cx="360.9" cy="224.9" r="1.5" fill="#6c54c7"/><circle cx="410.2" cy="230.2" r="1.5" fill="#fd0956"/><circle cx="413.8" cy="232.0" r="1.0" fill="#f40e60"/><circle cx="348.0" cy="229.7" r="1.5" fill="#6856c9"/><circle cx="320.6" cy="232.9" r="1.5" fill="#2e7ce2"/><circle cx="415.7" cy="231.5" r="1.2" fill="#fc0a57"/><circle cx="380.2" cy="228.1" r="1.4" fill="#d42083"/><circle cx="387.0" cy="235.1" r="1.1" fill="#ff0854"/><circle cx="325.7" cy="228.5" r="1.6" fill="#3a74dd"/><circle cx="301.3" cy="232.3" r="1.3" fill="#2b7ee3"/><circle cx="357.7" cy="228.3" r="1.1" fill="#6558cb"/><circle cx="368.9" cy="228.0" r="1.2" fill="#8944b8"/><circle cx="353.2" cy="234.5" r="1.5" fill="#7a4cc1"/><circle cx="375.2" cy="231.8" r="1.2" fill="#8446bb"/><circle cx="374.8" cy="237.0" r="1.5" fill="#e51770"/><circle cx="329.0" cy="227.8" r="1.4" fill="#3c72dc"/><circle cx="380.7" cy="225.9" r="1.6" fill="#ac33a0"/><circle cx="310.8" cy="230.9" r="1.1" fill="#2f7be1"/><circle cx="372.0" cy="235.0" r="1.6" fill="#f11063"/><circle cx="414.0" cy="232.9" r="1.7" fill="#f70c5d"/><circle cx="396.1" cy="230.6" r="1.6" fill="#e6166f"/><circle cx="405.2" cy="231.4" r="1.1" fill="#fa0b59"/><circle cx="313.4" cy="230.9" r="1.1" fill="#2a7fe3"/><circle cx="386.0" cy="236.2" r="1.2" fill="#cf2388"/><circle cx="302.0" cy="232.1" r="1.4" fill="#2c7de2"/><circle cx="320.3" cy="232.9" r="1.1" fill="#2c7de2"/></g></g>
<path d="M309.7,277.0 C309.7,276.5 310.1,275.8 310.6,275.5 C311.2,275.2 311.4,275.4 313.0,275.2 C314.6,275.0 317.6,274.9 319.9,274.5 C322.2,274.1 324.6,273.6 326.9,273.1 C329.2,272.6 331.9,271.9 333.8,271.4 C335.7,270.9 337.2,270.6 338.5,270.2 C339.8,269.8 340.4,268.9 341.5,269.0 C342.6,269.1 343.6,270.5 344.9,271.0 C346.2,271.5 347.7,272.1 349.1,272.0 C350.5,271.9 352.1,270.8 353.5,270.3 C354.9,269.8 356.1,269.1 357.5,268.8 C358.9,268.5 360.5,268.3 361.8,268.3 C363.1,268.3 364.3,268.7 365.5,269.0 C366.7,269.3 367.8,269.9 368.8,270.0 C369.8,270.1 370.6,269.5 371.5,269.4 C372.4,269.3 373.4,269.2 374.3,269.3 C375.2,269.4 376.2,269.8 377.0,270.2 C377.8,270.6 378.2,270.9 379.2,271.7 C380.1,272.5 381.1,274.3 382.7,274.9 C384.3,275.5 387.1,275.3 388.9,275.4 C390.7,275.5 392.4,275.1 393.5,275.4 C394.6,275.7 395.6,276.6 395.6,277.2 C395.6,277.8 394.6,278.6 393.5,278.9 C392.4,279.2 390.7,278.8 388.9,278.8 C387.1,278.8 384.3,278.3 382.7,279.0 C381.1,279.7 380.1,282.0 379.2,282.9 C378.2,283.8 377.8,283.9 377.0,284.3 C376.2,284.7 375.2,285.2 374.3,285.3 C373.4,285.4 372.4,285.2 371.5,285.0 C370.6,284.8 369.8,284.2 368.8,284.3 C367.8,284.4 366.7,285.3 365.5,285.6 C364.3,285.9 363.1,286.3 361.8,286.3 C360.5,286.3 358.9,286.1 357.5,285.8 C356.1,285.5 354.9,284.9 353.5,284.3 C352.1,283.8 350.5,282.7 349.1,282.5 C347.7,282.3 346.2,282.5 344.9,282.9 C343.6,283.2 342.6,284.5 341.5,284.6 C340.4,284.7 339.8,284.0 338.5,283.6 C337.2,283.2 335.7,282.7 333.8,282.2 C331.9,281.7 329.2,281.3 326.9,280.8 C324.6,280.3 322.2,279.8 319.9,279.4 C317.6,279.0 314.6,278.8 313.0,278.7 C311.4,278.6 311.2,278.8 310.6,278.5 C310.1,278.2 309.7,277.5 309.7,277.0Z" fill="url(#gr5)"/>
<g clip-path="url(#cr5)"><g opacity="0.75"><circle cx="392.8" cy="277.1" r="1.6" fill="#f60d5e"/><circle cx="313.4" cy="278.1" r="1.6" fill="#2880e4"/><circle cx="360.7" cy="282.9" r="1.2" fill="#7c4ac0"/><circle cx="317.4" cy="275.3" r="1.6" fill="#2880e4"/><circle cx="369.4" cy="275.1" r="1.7" fill="#764ec3"/><circle cx="349.0" cy="280.5" r="1.3" fill="#5462d2"/><circle cx="371.8" cy="270.6" r="1.2" fill="#df1a76"/><circle cx="371.7" cy="271.9" r="1.3" fill="#7d4abf"/><circle cx="316.3" cy="277.7" r="1.5" fill="#2e7ce1"/><circle cx="339.6" cy="274.7" r="1.2" fill="#3577df"/><circle cx="370.1" cy="269.9" r="1.4" fill="#6f52c6"/><circle cx="328.4" cy="275.5" r="1.5" fill="#2b7ee3"/><circle cx="314.2" cy="275.6" r="1.3" fill="#2880e4"/><circle cx="392.3" cy="277.6" r="1.6" fill="#f90b5b"/><circle cx="336.7" cy="274.4" r="1.4" fill="#2f7be1"/><circle cx="334.3" cy="271.5" r="1.2" fill="#3e71db"/><circle cx="382.7" cy="277.4" r="1.5" fill="#e11975"/><circle cx="364.4" cy="273.3" r="1.0" fill="#3378e0"/><circle cx="366.1" cy="284.4" r="1.5" fill="#7e49bf"/><circle cx="390.9" cy="277.9" r="1.5" fill="#ff0854"/><circle cx="393.8" cy="276.6" r="1.0" fill="#fd0956"/><circle cx="378.0" cy="275.5" r="1.1" fill="#b62f99"/><circle cx="361.9" cy="278.4" r="1.2" fill="#7e49bf"/><circle cx="369.5" cy="270.7" r="1.2" fill="#de1b78"/><circle cx="371.7" cy="272.4" r="1.7" fill="#c5288f"/><circle cx="368.4" cy="273.7" r="1.7" fill="#8844b9"/><circle cx="375.1" cy="282.8" r="1.2" fill="#d91e7d"/><circle cx="392.8" cy="275.4" r="1.4" fill="#fb0a58"/><circle cx="323.8" cy="279.1" r="1.1" fill="#2e7ce2"/><circle cx="362.2" cy="274.8" r="1.1" fill="#963eaf"/><circle cx="312.7" cy="275.5" r="1.4" fill="#2c7de3"/><circle cx="390.2" cy="275.8" r="1.3" fill="#f01165"/><circle cx="344.7" cy="276.8" r="1.1" fill="#446cd9"/><circle cx="314.5" cy="276.7" r="1.3" fill="#297fe3"/><circle cx="355.7" cy="278.3" r="1.2" fill="#466bd8"/><circle cx="379.4" cy="278.8" r="1.6" fill="#ff0854"/><circle cx="359.6" cy="285.3" r="1.5" fill="#5d5cce"/><circle cx="356.2" cy="272.9" r="1.2" fill="#4869d7"/><circle cx="330.6" cy="278.9" r="1.5" fill="#3477df"/><circle cx="344.0" cy="280.9" r="1.1" fill="#456cd8"/><circle cx="317.6" cy="276.5" r="1.2" fill="#2880e4"/><circle cx="390.9" cy="277.7" r="1.1" fill="#f90c5b"/><circle cx="379.1" cy="280.8" r="1.0" fill="#ff0854"/><circle cx="363.0" cy="278.6" r="1.1" fill="#4e66d5"/><circle cx="382.5" cy="276.5" r="1.1" fill="#a139a8"/><circle cx="313.7" cy="277.4" r="1.5" fill="#2e7be1"/><circle cx="384.2" cy="276.8" r="1.3" fill="#ff0854"/><circle cx="376.6" cy="274.4" r="1.4" fill="#f80c5c"/><circle cx="387.4" cy="275.4" r="1.2" fill="#ed1268"/><circle cx="374.6" cy="271.6" r="1.1" fill="#6c54c7"/><circle cx="332.4" cy="272.2" r="1.0" fill="#3478df"/><circle cx="340.9" cy="274.2" r="1.0" fill="#3875de"/><circle cx="389.4" cy="277.1" r="1.4" fill="#f70c5d"/><circle cx="325.7" cy="276.0" r="1.3" fill="#2880e4"/><circle cx="362.9" cy="274.9" r="1.5" fill="#7d4abf"/><circle cx="377.7" cy="277.6" r="1.1" fill="#f20f62"/><circle cx="319.9" cy="275.7" r="1.1" fill="#2880e4"/><circle cx="317.5" cy="277.1" r="1.3" fill="#3478df"/><circle cx="363.8" cy="282.3" r="1.5" fill="#8844b9"/><circle cx="310.3" cy="276.6" r="1.5" fill="#2880e4"/><circle cx="348.2" cy="274.9" r="1.1" fill="#436dd9"/><circle cx="383.9" cy="278.1" r="1.4" fill="#fe0955"/><circle cx="359.5" cy="285.0" r="1.6" fill="#764ec3"/><circle cx="375.8" cy="280.1" r="1.5" fill="#cb258b"/><circle cx="324.7" cy="274.9" r="1.5" fill="#3775de"/><circle cx="395.3" cy="277.5" r="1.1" fill="#ff0854"/><circle cx="388.0" cy="278.1" r="1.5" fill="#f60d5e"/><circle cx="388.6" cy="276.9" r="1.2" fill="#f40e60"/><circle cx="387.8" cy="278.1" r="1.1" fill="#fe0855"/><circle cx="313.6" cy="276.7" r="1.4" fill="#2a7fe3"/><circle cx="344.9" cy="282.6" r="1.7" fill="#426eda"/><circle cx="339.5" cy="271.0" r="1.3" fill="#3b73dc"/><circle cx="327.6" cy="280.2" r="1.0" fill="#2880e4"/><circle cx="368.3" cy="284.1" r="1.5" fill="#d42083"/><circle cx="346.9" cy="274.4" r="1.5" fill="#6259cc"/><circle cx="339.2" cy="276.7" r="1.3" fill="#317ae1"/><circle cx="337.6" cy="271.9" r="1.0" fill="#3874dd"/><circle cx="367.5" cy="277.1" r="1.5" fill="#744fc4"/><circle cx="345.7" cy="273.5" r="1.7" fill="#3b73dc"/><circle cx="388.2" cy="277.4" r="1.5" fill="#fe0855"/><circle cx="344.7" cy="271.5" r="1.5" fill="#466bd8"/><circle cx="354.1" cy="284.0" r="1.2" fill="#4c67d6"/><circle cx="324.7" cy="276.7" r="1.2" fill="#2880e4"/><circle cx="380.9" cy="274.9" r="1.3" fill="#ff0854"/><circle cx="351.4" cy="277.5" r="1.0" fill="#5263d3"/><circle cx="366.6" cy="278.0" r="1.4" fill="#5362d3"/><circle cx="333.4" cy="273.2" r="1.7" fill="#3477df"/><circle cx="321.1" cy="278.6" r="1.6" fill="#317ae0"/><circle cx="327.6" cy="275.5" r="1.1" fill="#2e7ce1"/><circle cx="354.2" cy="280.7" r="1.3" fill="#7051c5"/><circle cx="340.6" cy="271.6" r="1.3" fill="#3378e0"/><circle cx="337.1" cy="272.8" r="1.2" fill="#3279e0"/><circle cx="360.6" cy="277.3" r="1.6" fill="#5164d4"/><circle cx="359.1" cy="274.7" r="1.1" fill="#6558ca"/><circle cx="345.1" cy="276.1" r="1.6" fill="#3a73dd"/><circle cx="319.3" cy="278.1" r="1.5" fill="#2880e4"/><circle cx="326.0" cy="279.6" r="1.4" fill="#2e7ce2"/><circle cx="395.0" cy="276.7" r="1.1" fill="#ff0854"/><circle cx="332.7" cy="272.4" r="1.5" fill="#2880e4"/><circle cx="322.3" cy="277.6" r="1.5" fill="#307be1"/><circle cx="387.4" cy="278.0" r="1.3" fill="#f80c5c"/><circle cx="345.4" cy="272.7" r="1.5" fill="#4869d7"/><circle cx="379.0" cy="278.3" r="1.6" fill="#de1a78"/><circle cx="362.8" cy="283.8" r="1.3" fill="#5263d3"/><circle cx="374.0" cy="270.7" r="1.4" fill="#7d49bf"/><circle cx="385.4" cy="276.6" r="1.7" fill="#fb0a59"/><circle cx="334.0" cy="282.2" r="1.6" fill="#3974dd"/><circle cx="344.1" cy="275.8" r="1.3" fill="#466bd8"/><circle cx="332.3" cy="279.3" r="1.5" fill="#3577df"/><circle cx="330.2" cy="279.8" r="1.2" fill="#2a7ee3"/><circle cx="382.6" cy="277.0" r="1.5" fill="#fe0956"/><circle cx="326.1" cy="280.0" r="1.2" fill="#2880e4"/><circle cx="345.0" cy="272.7" r="1.4" fill="#4969d7"/><circle cx="372.4" cy="275.4" r="1.5" fill="#5c5dce"/><circle cx="318.7" cy="279.0" r="1.4" fill="#2d7ce2"/><circle cx="328.3" cy="281.0" r="1.4" fill="#2880e4"/><circle cx="383.7" cy="278.4" r="1.5" fill="#ff0854"/><circle cx="348.9" cy="275.4" r="1.1" fill="#4e66d5"/><circle cx="330.6" cy="274.2" r="1.5" fill="#297fe3"/><circle cx="375.3" cy="270.3" r="1.5" fill="#9240b2"/><circle cx="343.8" cy="277.9" r="1.6" fill="#5462d2"/><circle cx="355.4" cy="272.7" r="1.1" fill="#5064d4"/><circle cx="376.5" cy="272.6" r="1.5" fill="#ca268c"/><circle cx="377.7" cy="281.5" r="1.5" fill="#f30f61"/><circle cx="370.5" cy="270.0" r="1.1" fill="#cb258c"/><circle cx="348.5" cy="282.3" r="1.2" fill="#3775de"/><circle cx="339.3" cy="275.6" r="1.1" fill="#3478df"/><circle cx="320.0" cy="278.1" r="1.4" fill="#2880e4"/><circle cx="312.3" cy="276.0" r="1.6" fill="#2880e4"/><circle cx="330.9" cy="274.5" r="1.5" fill="#2880e4"/><circle cx="312.2" cy="277.3" r="1.3" fill="#2a7fe3"/><circle cx="326.4" cy="279.1" r="1.4" fill="#297fe4"/><circle cx="345.3" cy="275.3" r="1.3" fill="#4869d7"/><circle cx="390.0" cy="277.9" r="1.4" fill="#fc0957"/><circle cx="324.0" cy="275.8" r="1.1" fill="#317ae0"/><circle cx="334.2" cy="278.6" r="1.4" fill="#317ae1"/><circle cx="324.6" cy="278.9" r="1.2" fill="#2f7be1"/><circle cx="348.8" cy="277.7" r="1.6" fill="#4a68d6"/><circle cx="323.8" cy="279.2" r="1.4" fill="#2e7ce2"/><circle cx="353.9" cy="275.4" r="1.1" fill="#7151c5"/><circle cx="351.4" cy="273.3" r="1.4" fill="#744fc4"/><circle cx="338.5" cy="277.3" r="1.5" fill="#3478df"/><circle cx="375.9" cy="275.5" r="1.4" fill="#a138a7"/><circle cx="344.5" cy="277.0" r="1.4" fill="#3676de"/><circle cx="329.2" cy="280.6" r="1.6" fill="#2c7de2"/><circle cx="388.8" cy="278.6" r="1.3" fill="#f80c5b"/><circle cx="326.3" cy="277.7" r="1.2" fill="#2880e4"/><circle cx="332.5" cy="275.3" r="1.2" fill="#3179e0"/><circle cx="342.4" cy="282.0" r="1.1" fill="#3a73dd"/><circle cx="344.6" cy="282.2" r="1.0" fill="#4c67d6"/><circle cx="311.3" cy="276.4" r="1.1" fill="#297fe4"/><circle cx="370.0" cy="276.0" r="1.7" fill="#bf2b94"/><circle cx="381.6" cy="275.2" r="1.1" fill="#fe0855"/><circle cx="367.0" cy="281.7" r="1.3" fill="#c5288f"/><circle cx="319.0" cy="276.5" r="1.3" fill="#3279e0"/><circle cx="371.6" cy="272.3" r="1.1" fill="#ea146b"/><circle cx="385.5" cy="278.2" r="1.5" fill="#e8156c"/><circle cx="332.2" cy="271.9" r="1.0" fill="#2880e4"/><circle cx="314.4" cy="277.9" r="1.1" fill="#317ae1"/><circle cx="344.1" cy="278.7" r="1.3" fill="#2e7ce2"/><circle cx="335.0" cy="271.9" r="1.7" fill="#2f7be1"/><circle cx="327.5" cy="280.5" r="1.3" fill="#2880e4"/><circle cx="382.5" cy="277.9" r="1.4" fill="#ff0854"/><circle cx="322.5" cy="275.0" r="1.7" fill="#2880e4"/><circle cx="394.8" cy="277.2" r="1.1" fill="#ff0854"/><circle cx="363.1" cy="275.2" r="1.4" fill="#2880e4"/><circle cx="327.5" cy="274.4" r="1.5" fill="#2d7de2"/><circle cx="365.4" cy="277.1" r="1.7" fill="#5c5dce"/><circle cx="392.7" cy="275.9" r="1.6" fill="#f70c5c"/><circle cx="346.3" cy="280.8" r="1.2" fill="#416eda"/><circle cx="314.2" cy="277.3" r="1.5" fill="#297fe3"/><circle cx="318.5" cy="277.1" r="1.7" fill="#2880e4"/><circle cx="363.4" cy="269.4" r="1.5" fill="#9240b2"/></g></g>
<path d="M336.4,323.1 C336.4,322.0 337.9,320.9 338.7,319.7 C339.4,318.5 340.2,316.6 340.9,315.8 C341.6,315.0 342.2,315.1 343.1,315.0 C344.0,314.9 345.6,314.8 346.5,315.3 C347.4,315.9 348.0,317.2 348.7,318.3 C349.4,319.4 350.0,321.5 350.9,321.6 C351.8,321.8 353.2,319.9 354.3,319.2 C355.4,318.5 356.3,317.4 357.3,317.5 C358.3,317.6 359.4,319.1 360.4,319.7 C361.3,320.3 361.8,321.3 363.0,321.4 C364.2,321.5 365.9,320.7 367.5,320.3 C369.1,319.9 370.8,319.1 372.5,319.0 C374.2,318.9 375.8,319.2 377.5,319.5 C379.2,319.8 380.8,320.4 382.5,320.7 C384.2,321.0 386.3,321.2 387.5,321.3 C388.7,321.4 389.2,321.1 389.8,321.4 C390.4,321.7 391.0,322.5 391.0,323.0 C391.0,323.5 390.4,324.3 389.8,324.6 C389.2,324.9 388.7,324.5 387.5,324.6 C386.3,324.7 384.2,325.0 382.5,325.3 C380.8,325.6 379.2,326.0 377.5,326.3 C375.8,326.6 374.2,327.4 372.5,327.3 C370.8,327.2 369.1,325.9 367.5,325.5 C365.9,325.1 364.2,324.8 363.0,325.0 C361.8,325.2 361.3,326.4 360.4,327.0 C359.4,327.6 358.3,328.9 357.3,328.9 C356.3,328.8 355.4,327.5 354.3,326.7 C353.2,325.9 351.8,323.9 350.9,324.2 C350.0,324.5 349.4,327.0 348.7,328.3 C348.0,329.6 347.4,331.4 346.5,332.0 C345.6,332.6 344.0,332.4 343.1,332.2 C342.2,332.0 341.6,331.6 340.9,330.6 C340.2,329.6 339.4,327.4 338.7,326.1 C337.9,324.9 336.4,324.2 336.4,323.1Z" fill="url(#gr6)"/>
<g clip-path="url(#cr6)"><g opacity="0.75"><circle cx="340.6" cy="321.6" r="1.0" fill="#754fc3"/><circle cx="376.3" cy="323.2" r="1.6" fill="#d02287"/><circle cx="380.6" cy="321.3" r="1.4" fill="#f30f61"/><circle cx="360.5" cy="323.9" r="1.4" fill="#c7278e"/><circle cx="389.0" cy="322.2" r="1.0" fill="#f30e61"/><circle cx="358.5" cy="326.0" r="1.3" fill="#973dae"/><circle cx="361.2" cy="321.1" r="1.7" fill="#9f3aa9"/><circle cx="374.1" cy="326.2" r="1.3" fill="#fb0a58"/><circle cx="363.7" cy="321.3" r="1.5" fill="#cf2387"/><circle cx="343.8" cy="328.3" r="1.1" fill="#486ad7"/><circle cx="357.5" cy="323.6" r="1.4" fill="#f01064"/><circle cx="336.5" cy="323.2" r="1.3" fill="#5660d1"/><circle cx="373.0" cy="323.4" r="1.4" fill="#ad33a0"/><circle cx="357.1" cy="321.9" r="1.3" fill="#b72e99"/><circle cx="375.8" cy="325.8" r="1.2" fill="#e31872"/><circle cx="381.8" cy="322.0" r="1.7" fill="#e51670"/><circle cx="365.1" cy="324.5" r="1.4" fill="#e8156d"/><circle cx="363.7" cy="324.1" r="1.1" fill="#d12285"/><circle cx="364.6" cy="322.3" r="1.2" fill="#c42890"/><circle cx="351.2" cy="321.7" r="1.4" fill="#8b43b7"/><circle cx="343.5" cy="325.0" r="1.5" fill="#6259cc"/><circle cx="380.2" cy="321.1" r="1.1" fill="#fc0a57"/><circle cx="370.0" cy="321.7" r="1.3" fill="#ff0854"/><circle cx="360.9" cy="326.2" r="1.6" fill="#de1b78"/><circle cx="345.4" cy="328.4" r="1.7" fill="#9040b3"/><circle cx="386.3" cy="324.4" r="1.3" fill="#eb1369"/><circle cx="358.7" cy="324.9" r="1.5" fill="#a139a8"/><circle cx="350.6" cy="322.8" r="1.0" fill="#8844b9"/><circle cx="376.0" cy="325.9" r="1.6" fill="#d32183"/><circle cx="380.8" cy="322.2" r="1.1" fill="#e01a76"/><circle cx="349.3" cy="322.3" r="1.6" fill="#595fd0"/><circle cx="347.0" cy="322.3" r="1.6" fill="#7d4abf"/><circle cx="385.4" cy="323.8" r="1.2" fill="#f30f61"/><circle cx="364.8" cy="321.7" r="1.7" fill="#ed1268"/><circle cx="345.3" cy="317.3" r="1.2" fill="#c8268e"/><circle cx="356.5" cy="318.3" r="1.6" fill="#df1a76"/><circle cx="389.5" cy="324.2" r="1.5" fill="#fe0855"/><circle cx="387.0" cy="323.0" r="1.5" fill="#ff0854"/><circle cx="366.7" cy="323.4" r="1.6" fill="#9f39a9"/><circle cx="350.5" cy="323.3" r="1.1" fill="#9b3bac"/><circle cx="336.6" cy="322.9" r="1.5" fill="#4969d7"/><circle cx="372.1" cy="320.2" r="1.7" fill="#c42890"/><circle cx="355.1" cy="319.3" r="1.4" fill="#9c3bab"/><circle cx="371.3" cy="321.4" r="1.5" fill="#c6278f"/><circle cx="362.2" cy="325.3" r="1.3" fill="#c9268d"/><circle cx="350.2" cy="323.1" r="1.3" fill="#744fc4"/><circle cx="386.1" cy="323.1" r="1.2" fill="#f60d5e"/><circle cx="360.5" cy="326.6" r="1.7" fill="#ab34a1"/><circle cx="345.0" cy="331.8" r="1.4" fill="#3a73dd"/><circle cx="375.6" cy="321.3" r="1.2" fill="#d61f80"/><circle cx="362.1" cy="323.8" r="1.2" fill="#d71f80"/><circle cx="389.9" cy="324.3" r="1.3" fill="#ff0854"/><circle cx="388.1" cy="322.1" r="1.6" fill="#e7156e"/><circle cx="343.0" cy="320.0" r="1.0" fill="#6f52c6"/><circle cx="354.2" cy="320.9" r="1.5" fill="#df1a77"/><circle cx="354.1" cy="323.6" r="1.2" fill="#c32991"/><circle cx="369.3" cy="322.1" r="1.3" fill="#f50e5f"/><circle cx="362.8" cy="323.0" r="1.7" fill="#d42083"/><circle cx="380.1" cy="320.7" r="1.1" fill="#e31872"/><circle cx="358.7" cy="323.0" r="1.2" fill="#a935a3"/><circle cx="385.1" cy="322.1" r="1.3" fill="#ff0854"/><circle cx="369.9" cy="324.3" r="1.1" fill="#fb0a59"/><circle cx="383.4" cy="321.2" r="1.6" fill="#ec1369"/><circle cx="377.6" cy="320.8" r="1.1" fill="#fd0956"/><circle cx="352.9" cy="320.5" r="1.1" fill="#d12286"/><circle cx="357.7" cy="327.2" r="1.3" fill="#a736a4"/><circle cx="350.5" cy="323.9" r="1.7" fill="#9f39a9"/><circle cx="351.4" cy="323.8" r="1.2" fill="#a437a5"/><circle cx="357.7" cy="321.6" r="1.3" fill="#d71e7f"/><circle cx="377.6" cy="324.0" r="1.2" fill="#f01064"/><circle cx="381.3" cy="320.7" r="1.4" fill="#ef1165"/><circle cx="359.3" cy="320.8" r="1.2" fill="#bb2c96"/><circle cx="360.1" cy="324.8" r="1.7" fill="#d12285"/><circle cx="374.0" cy="322.6" r="1.1" fill="#eb1369"/><circle cx="378.9" cy="325.7" r="1.1" fill="#eb136a"/><circle cx="387.0" cy="323.2" r="1.5" fill="#ff0854"/><circle cx="357.3" cy="319.9" r="1.7" fill="#d71e7f"/><circle cx="347.4" cy="325.0" r="1.3" fill="#625acc"/><circle cx="353.9" cy="320.0" r="1.0" fill="#bf2b93"/><circle cx="382.7" cy="322.1" r="1.3" fill="#ff0854"/></g></g>
<path d="M333.0,369.2 C333.0,368.7 333.3,367.9 333.8,367.6 C334.3,367.3 334.6,367.5 336.0,367.4 C337.4,367.3 340.7,367.8 342.1,367.2 C343.5,366.6 343.8,365.2 344.5,364.1 C345.2,363.0 345.7,361.5 346.3,360.8 C346.9,360.1 347.4,359.8 348.1,359.9 C348.8,360.0 349.7,361.1 350.5,361.7 C351.3,362.2 352.1,362.8 352.9,363.2 C353.7,363.6 354.0,364.2 355.4,364.3 C356.8,364.4 360.0,364.0 361.4,364.0 C362.8,364.0 363.2,364.1 364.0,364.5 C364.8,364.9 365.0,366.3 366.0,366.2 C367.0,366.1 368.5,364.2 370.0,364.0 C371.5,363.8 373.5,364.6 375.0,364.8 C376.5,365.1 377.9,365.1 379.0,365.5 C380.1,365.9 380.3,366.7 381.5,367.0 C382.7,367.3 384.6,367.1 386.0,367.2 C387.4,367.3 389.0,367.1 389.8,367.4 C390.6,367.7 390.9,368.4 390.9,369.0 C390.9,369.6 390.6,370.4 389.8,370.8 C389.0,371.2 387.4,371.0 386.0,371.1 C384.6,371.2 382.7,371.2 381.5,371.5 C380.3,371.8 380.1,372.5 379.0,372.8 C377.9,373.1 376.5,373.1 375.0,373.3 C373.5,373.5 371.5,374.2 370.0,374.0 C368.5,373.8 367.0,372.1 366.0,372.1 C365.0,372.1 364.8,373.6 364.0,374.0 C363.2,374.4 362.8,374.2 361.4,374.2 C360.0,374.2 356.8,373.5 355.4,373.8 C354.0,374.1 353.7,375.3 352.9,375.9 C352.1,376.5 351.3,376.9 350.5,377.4 C349.7,377.8 348.8,378.6 348.1,378.6 C347.4,378.6 346.9,378.1 346.3,377.4 C345.7,376.7 345.2,375.4 344.5,374.3 C343.8,373.2 343.5,371.6 342.1,371.0 C340.7,370.4 337.4,370.7 336.0,370.7 C334.6,370.7 334.3,371.1 333.8,370.8 C333.3,370.6 333.0,369.7 333.0,369.2Z" fill="url(#gr7)"/>
<g clip-path="url(#cr7)"><g opacity="0.75"><circle cx="373.9" cy="367.6" r="1.4" fill="#6b54c8"/><circle cx="340.6" cy="368.2" r="1.1" fill="#2880e4"/><circle cx="343.6" cy="372.4" r="1.7" fill="#297fe4"/><circle cx="390.6" cy="368.5" r="1.3" fill="#df1a76"/><circle cx="343.5" cy="371.9" r="1.4" fill="#297fe3"/><circle cx="385.1" cy="368.3" r="1.6" fill="#df1a76"/><circle cx="345.3" cy="367.1" r="1.6" fill="#2b7ee3"/><circle cx="338.6" cy="367.7" r="1.2" fill="#2c7de2"/><circle cx="381.7" cy="370.7" r="1.1" fill="#7d4abf"/><circle cx="371.9" cy="369.4" r="1.2" fill="#ff0854"/><circle cx="388.0" cy="370.3" r="1.2" fill="#7f49bf"/><circle cx="385.1" cy="369.8" r="1.3" fill="#9240b2"/><circle cx="370.0" cy="368.7" r="1.5" fill="#a039a8"/><circle cx="372.5" cy="373.5" r="1.2" fill="#d51f81"/><circle cx="384.5" cy="368.0" r="1.5" fill="#d12286"/><circle cx="367.9" cy="368.4" r="1.3" fill="#585fd0"/><circle cx="381.5" cy="368.8" r="1.1" fill="#ff0854"/><circle cx="360.1" cy="370.8" r="1.6" fill="#5064d4"/><circle cx="365.4" cy="366.5" r="1.3" fill="#8d42b5"/><circle cx="356.5" cy="371.2" r="1.1" fill="#5561d2"/><circle cx="357.8" cy="365.5" r="1.5" fill="#3a73dd"/><circle cx="371.5" cy="371.2" r="1.7" fill="#d51f81"/><circle cx="352.5" cy="364.7" r="1.2" fill="#2e7ce2"/><circle cx="356.9" cy="368.6" r="1.1" fill="#4c67d6"/><circle cx="366.5" cy="370.3" r="1.1" fill="#7350c4"/><circle cx="354.7" cy="364.0" r="1.1" fill="#4e66d5"/><circle cx="385.5" cy="370.4" r="1.0" fill="#a736a4"/><circle cx="364.3" cy="366.3" r="1.6" fill="#784dc2"/><circle cx="362.3" cy="371.0" r="1.5" fill="#4e65d5"/><circle cx="355.6" cy="364.5" r="1.6" fill="#5462d2"/><circle cx="337.4" cy="369.8" r="1.1" fill="#2d7ce2"/><circle cx="361.4" cy="371.4" r="1.4" fill="#4a68d6"/><circle cx="359.2" cy="370.2" r="1.2" fill="#6558cb"/><circle cx="384.1" cy="371.1" r="1.3" fill="#d81e7e"/><circle cx="366.2" cy="370.0" r="1.4" fill="#9140b2"/><circle cx="340.0" cy="370.7" r="1.4" fill="#2880e4"/><circle cx="344.4" cy="369.3" r="1.4" fill="#3279e0"/><circle cx="370.9" cy="370.5" r="1.0" fill="#8446bb"/><circle cx="387.2" cy="367.3" r="1.7" fill="#e31872"/><circle cx="383.2" cy="369.8" r="1.1" fill="#993cad"/><circle cx="375.9" cy="369.9" r="1.4" fill="#be2b94"/><circle cx="388.5" cy="370.6" r="1.1" fill="#f40e60"/><circle cx="349.1" cy="370.7" r="1.5" fill="#307ae1"/><circle cx="368.5" cy="370.3" r="1.4" fill="#a238a7"/><circle cx="348.2" cy="367.6" r="1.4" fill="#3a74dd"/><circle cx="359.0" cy="365.1" r="1.5" fill="#6757c9"/><circle cx="385.2" cy="368.8" r="1.3" fill="#cc258b"/><circle cx="347.5" cy="377.1" r="1.0" fill="#317ae0"/><circle cx="371.1" cy="372.2" r="1.2" fill="#df1a76"/><circle cx="376.6" cy="366.3" r="1.1" fill="#da1d7c"/><circle cx="383.0" cy="371.0" r="1.1" fill="#6458cb"/><circle cx="382.9" cy="371.1" r="1.3" fill="#ed1267"/><circle cx="334.1" cy="367.9" r="1.2" fill="#2880e4"/><circle cx="348.2" cy="362.5" r="1.4" fill="#2880e4"/><circle cx="349.5" cy="376.5" r="1.6" fill="#2880e4"/><circle cx="390.2" cy="370.1" r="1.2" fill="#7a4cc1"/><circle cx="362.3" cy="370.9" r="1.0" fill="#6757c9"/><circle cx="352.9" cy="366.8" r="1.6" fill="#4c67d6"/><circle cx="355.6" cy="369.1" r="1.0" fill="#5860d0"/><circle cx="381.8" cy="370.8" r="1.5" fill="#e51770"/><circle cx="361.5" cy="368.8" r="1.3" fill="#615acc"/><circle cx="363.7" cy="369.6" r="1.3" fill="#466bd8"/><circle cx="339.9" cy="367.9" r="1.7" fill="#2880e4"/><circle cx="365.8" cy="370.8" r="1.7" fill="#4e65d5"/><circle cx="347.5" cy="371.5" r="1.6" fill="#3179e0"/><circle cx="364.2" cy="369.1" r="1.4" fill="#3e70db"/><circle cx="343.1" cy="366.7" r="1.4" fill="#2980e4"/><circle cx="359.6" cy="365.7" r="1.6" fill="#5164d4"/><circle cx="386.4" cy="367.7" r="1.6" fill="#b1319d"/><circle cx="365.9" cy="367.1" r="1.1" fill="#5b5ecf"/><circle cx="381.2" cy="368.8" r="1.7" fill="#d61f80"/><circle cx="347.3" cy="371.0" r="1.1" fill="#2880e4"/><circle cx="341.7" cy="370.1" r="1.2" fill="#307be1"/><circle cx="369.5" cy="367.0" r="1.5" fill="#7c4ac0"/><circle cx="373.8" cy="366.1" r="1.6" fill="#e7156e"/><circle cx="387.2" cy="367.8" r="1.6" fill="#7051c5"/><circle cx="382.3" cy="368.0" r="1.1" fill="#7051c5"/><circle cx="386.2" cy="368.5" r="1.6" fill="#e41771"/><circle cx="390.6" cy="368.7" r="1.1" fill="#c7278e"/><circle cx="334.9" cy="368.7" r="1.1" fill="#2a7ee3"/><circle cx="335.3" cy="370.6" r="1.2" fill="#2b7ee3"/><circle cx="380.4" cy="367.2" r="1.4" fill="#d52081"/><circle cx="356.8" cy="370.1" r="1.3" fill="#5462d2"/><circle cx="356.3" cy="373.0" r="1.6" fill="#486ad7"/><circle cx="364.9" cy="365.4" r="1.3" fill="#6657ca"/><circle cx="378.9" cy="371.2" r="1.5" fill="#ff0854"/><circle cx="343.8" cy="368.8" r="1.1" fill="#2880e4"/><circle cx="359.8" cy="369.1" r="1.2" fill="#5e5cce"/><circle cx="335.7" cy="370.7" r="1.3" fill="#2880e4"/><circle cx="363.6" cy="365.7" r="1.5" fill="#615acc"/><circle cx="374.1" cy="365.2" r="1.5" fill="#f70d5d"/><circle cx="349.2" cy="377.4" r="1.2" fill="#307ae1"/><circle cx="380.0" cy="367.0" r="1.3" fill="#6b54c7"/></g></g>

<path d="M301.7,113.8 Q307.5,110.4 313.5,113.8Z" fill="#2a82e2"/>
<path d="M301.5,127.4 Q308,132 314,127.4Z" fill="#2a82e2"/>
<path d="M378.9,156.2 Q385,152.6 391.7,156.2Z" fill="#f01060"/>
<circle cx="413.3" cy="181.1" r="2" fill="#fa0850"/>
<path d="M343,289.6 Q345,288 347.5,289.6Z" fill="#e02080"/>
<path d="M348.5,357 Q351,355 353.5,357Z" fill="#2a6ad8"/>

<!-- axis -->
<rect x="194" y="451.3" width="457" height="2" fill="#76787d"/>
<rect x="301.8" y="443.3" width="1.6" height="19.2" fill="#85878c"/>
<rect x="419.1" y="443.3" width="1.9" height="19.2" fill="#7a7c81"/>
<rect x="484.6" y="443.3" width="1.6" height="19.2" fill="#85878c"/>
<rect x="542.1" y="443.3" width="1.9" height="19.2" fill="#7a7c81"/>
<!-- color bar -->
<rect x="649.1" y="22.7" width="2" height="420.8" fill="#9a2cff"/>
<!-- labels -->
<text x="13.09" y="102.70" font-size="18.4" textLength="81.67" lengthAdjust="spacingAndGlyphs">Marketing</text>
<text x="100.02" y="102.70" font-size="18.4" textLength="86.54" lengthAdjust="spacingAndGlyphs">campaigns</text>
<text x="65.23" y="148.00" font-size="18.4" textLength="62.37" lengthAdjust="spacingAndGlyphs">Reviews</text>
<text x="64.51" y="195.60" font-size="18.4" textLength="56.06" lengthAdjust="spacingAndGlyphs">Loyalty</text>
<text x="126.03" y="195.60" font-size="18.4" textLength="35.49" lengthAdjust="spacingAndGlyphs">card</text>
<text x="37.23" y="238.70" font-size="18.4" textLength="41.17" lengthAdjust="spacingAndGlyphs">Sales</text>
<text x="83.27" y="238.70" font-size="18.4" textLength="95.93" lengthAdjust="spacingAndGlyphs">transactions</text>
<text x="64.96" y="287.80" font-size="18.4" textLength="68.00" lengthAdjust="spacingAndGlyphs">Weather</text>
<text x="45.36" y="332.80" font-size="18.4" textLength="71.66" lengthAdjust="spacingAndGlyphs">Purchase</text>
<text x="122.10" y="332.80" font-size="18.4" textLength="43.53" lengthAdjust="spacingAndGlyphs">order</text>
<text x="60.17" y="381.40" font-size="18.4" textLength="74.42" lengthAdjust="spacingAndGlyphs">Inventory</text>
<text x="662.88" y="22.20" font-size="16.2" textLength="35.09" lengthAdjust="spacingAndGlyphs">High</text>
<text x="668.74" y="446.80" font-size="16.2" textLength="28.66" lengthAdjust="spacingAndGlyphs">Low</text>
<text transform="translate(698.60,283.44) rotate(-90)" x="0" y="0" font-size="18.4" textLength="59.24" lengthAdjust="spacingAndGlyphs">Feature</text>
<text transform="translate(698.60,218.36) rotate(-90)" x="0" y="0" font-size="18.4" textLength="44.78" lengthAdjust="spacingAndGlyphs">Value</text>
<text x="270.57" y="513.90" font-size="18.4" textLength="44.20" lengthAdjust="spacingAndGlyphs">SHAP</text>
<text x="317.60" y="513.90" font-size="18.4" textLength="46.80" lengthAdjust="spacingAndGlyphs">Value</text>
<text x="370.02" y="513.90" font-size="18.4" textLength="60.28" lengthAdjust="spacingAndGlyphs">(impact</text>
<text x="434.66" y="513.90" font-size="18.4" textLength="21.58" lengthAdjust="spacingAndGlyphs">on</text>
<text x="460.90" y="513.90" font-size="18.4" textLength="50.16" lengthAdjust="spacingAndGlyphs">model</text>
<text x="516.99" y="513.90" font-size="18.4" textLength="53.33" lengthAdjust="spacingAndGlyphs">output</text>
<text x="295.27" y="479.70" font-size="16.6" textLength="15.54" lengthAdjust="spacingAndGlyphs">-5</text>
<text x="356.55" y="482.90" font-size="16.6" textLength="9.28" lengthAdjust="spacingAndGlyphs">0</text>
<text x="417.12" y="483.00" font-size="16.6" textLength="8.61" lengthAdjust="spacingAndGlyphs">5</text>
<text x="479.57" y="482.70" font-size="16.6" textLength="18.08" lengthAdjust="spacingAndGlyphs">10</text>
<text x="535.18" y="482.70" font-size="16.6" textLength="17.62" lengthAdjust="spacingAndGlyphs">15</text>
</svg>
</body></html>
